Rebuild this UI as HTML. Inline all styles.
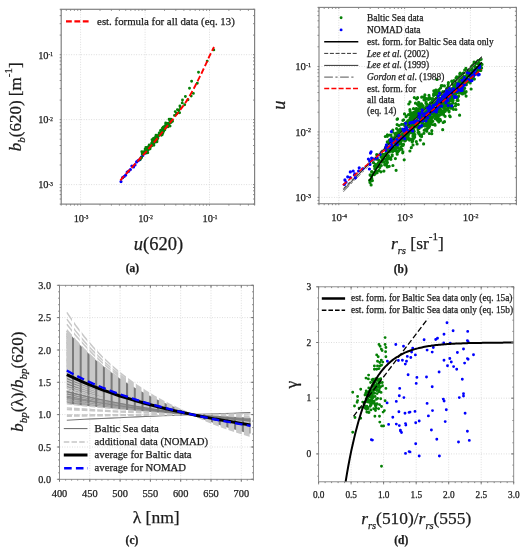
<!DOCTYPE html>
<html><head><meta charset="utf-8"><title>Figure</title>
<style>
html,body{margin:0;padding:0;background:#fff;}
svg{display:block;}
text{font-family:"Liberation Serif",serif;fill:#1c1c1c;stroke:#1c1c1c;stroke-width:0.25px;}
</style></head><body>
<svg width="523" height="550" viewBox="0 0 523 550">
<rect width="523" height="550" fill="#fff"/>
<line x1="80.6" y1="9.3" x2="80.6" y2="204.1" stroke="#d0d0d0" stroke-width="0.8" stroke-dasharray="0.9 1.6"/>
<line x1="61.2" y1="184.6" x2="254.6" y2="184.6" stroke="#d0d0d0" stroke-width="0.8" stroke-dasharray="0.9 1.6"/>
<line x1="145.1" y1="9.3" x2="145.1" y2="204.1" stroke="#d0d0d0" stroke-width="0.8" stroke-dasharray="0.9 1.6"/>
<line x1="61.2" y1="119.6" x2="254.6" y2="119.6" stroke="#d0d0d0" stroke-width="0.8" stroke-dasharray="0.9 1.6"/>
<line x1="209.5" y1="9.3" x2="209.5" y2="204.1" stroke="#d0d0d0" stroke-width="0.8" stroke-dasharray="0.9 1.6"/>
<line x1="61.2" y1="54.7" x2="254.6" y2="54.7" stroke="#d0d0d0" stroke-width="0.8" stroke-dasharray="0.9 1.6"/>
<path d="M121 181.6h0M122.6 177.7h0M124.1 176.5h0M125.7 175.1h0M127.2 172.1h0M128.8 171.2h0M130.4 169.5h0M131.9 166h0M133.5 167h0M135 164.9h0M136.6 161.9h0M138.1 160.7h0M139.7 159.7h0M141.3 157.2h0M142.8 155.5h0M144.4 152.6h0M145.9 152.9h0M147.5 150.6h0" stroke="#0000ff" stroke-width="3.2" stroke-linecap="round" fill="none"/>
<path d="M147.8 150.1h0M157.8 137.7h0M169.1 125h0M144.7 153.2h0M157 136.6h0M164.1 128.4h0M161.6 131.2h0M155.2 140.5h0M147 147.7h0M156 135.3h0M152.2 143.8h0M155.5 136.9h0M152 139.8h0M166.9 126.6h0M164.7 127h0M150.4 146.9h0M158.5 134.9h0M149.2 144.9h0M154.8 138h0M151.6 143.3h0M161.2 132.2h0M152.2 142h0M155 139.8h0M163.2 127.2h0M153.5 142.2h0M169.1 119.3h0M146.2 150.5h0M163.8 131h0M153.8 144.1h0M153.9 145.2h0M160.5 130.4h0M157 139.5h0M153.6 144.6h0M140.5 159.2h0M143.4 152h0M162.8 131.6h0M157 141.8h0M162.4 128.1h0M170.6 122.2h0M162 134.1h0M142.2 153.9h0M150.2 147.3h0M159.2 133h0M147.9 147.1h0M170.9 119.1h0M170.3 122h0M167.2 125.2h0M155.4 141.9h0M167 123.7h0M144.6 152.4h0M150.2 148.1h0M155.1 141.4h0M163.9 126.7h0M155.8 140.7h0M144.8 151.4h0M151.3 145.6h0M150.7 146.1h0M150 148.9h0M145.7 151.7h0M153.6 138.2h0M154.6 137.9h0M164.9 129.8h0M165.6 126.9h0M157 140.3h0M155 140.9h0M165 126.5h0M168.4 126.1h0M161.8 130.4h0M165.7 122.9h0M170.1 126.1h0M141.8 151.8h0M168.1 125.6h0M149.2 149.3h0M155.5 140h0M165.6 123.9h0M163.1 132.6h0M145.1 149.1h0M161.3 129.9h0M142.7 154h0M151.7 145.9h0M166.1 127.4h0M154 143.3h0M159.4 134.1h0M163.4 129.7h0M166.4 124.1h0M164.5 128.1h0M140.7 158.2h0M153.7 141.2h0M155.1 141.2h0M142.2 154.1h0M157.6 136h0M159.6 134.8h0M166.6 125.7h0M170.2 122.9h0M144.5 153.1h0M147.8 152.7h0M161.3 132.3h0M144.7 152.1h0M147.6 147.1h0M158.6 136h0M145.8 152.7h0M165.1 126.4h0M167.5 124.9h0M141.6 157.5h0M157.3 137.3h0M165.6 126.3h0M171.2 122.4h0M149.1 147.6h0M145.8 152.2h0M168.1 126.7h0M169.1 125.4h0M146.7 149.5h0M154.4 139.9h0M163.2 131h0M167.1 125.2h0M145.8 147.4h0M161.4 135.2h0M165.9 127h0M157.8 138.5h0M145.7 149h0M162.6 133.7h0M167.1 124.3h0M176.5 113.7h0M162.8 127.9h0M162.1 131.3h0M168.5 123.3h0M163.1 130h0M164.7 129.4h0M162.4 131.4h0M171.4 122.1h0M174.5 115.4h0M169.7 120.2h0M164.4 128.8h0M168 125.8h0M172.6 121.2h0M178.9 112.6h0M179.9 105.9h0M166.3 127.3h0M162.2 134.7h0M177 113.6h0M178.7 110.2h0M170.3 122.2h0M213.8 49.9h0M207.2 61.1h0M198.5 72.3h0M191.6 81.2h0M197.3 83.2h0M189.5 88.3h0M193.4 93.4h0M185.4 96.5h0M191.2 96.1h0M182.5 100h0M188 99.7h0M182.2 102.9h0M184.7 104.8h0M180.3 107.7h0M177.4 109.6h0M175.2 111.6h0M179.6 112.8h0" stroke="#058005" stroke-width="2.9" stroke-linecap="round" fill="none"/>
<path d="M120.4 180.3L122 178.5L123.6 176.7L125.2 175L126.7 173.2L128.3 171.4L129.9 169.6L131.5 167.9L133.1 166.1L134.7 164.4L136.3 162.6L137.9 160.9L139.4 159.1L141 157.4L142.6 155.7L144.2 153.9L145.8 152.2L147.4 150.3L149 148.4L150.5 146.5L152.1 144.6L153.7 142.7L155.3 140.8L156.9 138.8L158.5 136.9L160.1 135L161.6 133L163.2 131.1L164.8 129.2L166.4 127.2L168 125.2L169.6 123.2L171.2 121.2L172.8 119.3L174.3 117.4L175.9 115.5L177.5 113.5L179.1 111.5L180.7 109.3L182.3 107.1L183.9 104.9L185.4 102.7L187 100.4L188.6 97.6L190.2 94.9L191.8 92.1L193.4 89.2L195 86.3L196.5 83.2L198.1 80.1L199.7 76.9L201.3 73.8L202.9 70.4L204.5 67L206.1 63.6L207.7 60.1L209.2 56.7L210.8 53.4L212.4 50.1L214 47" stroke="#ff0000" stroke-width="1.9" fill="none" stroke-linecap="butt" stroke-dasharray="5.8 2.6" />
<path d="M61.2 204.1v1.5M61.2 9.3v1.5M66.3 204.1v1.5M66.3 9.3v1.5M70.6 204.1v1.5M70.6 9.3v1.5M74.4 204.1v1.5M74.4 9.3v1.5M77.7 204.1v1.5M77.7 9.3v1.5M80.6 204.1v1.5M80.6 9.3v1.5M100 204.1v1.5M100 9.3v1.5M111.4 204.1v1.5M111.4 9.3v1.5M119.4 204.1v1.5M119.4 9.3v1.5M125.7 204.1v1.5M125.7 9.3v1.5M130.8 204.1v1.5M130.8 9.3v1.5M135.1 204.1v1.5M135.1 9.3v1.5M138.8 204.1v1.5M138.8 9.3v1.5M142.1 204.1v1.5M142.1 9.3v1.5M145.1 204.1v1.5M145.1 9.3v1.5M164.5 204.1v1.5M164.5 9.3v1.5M175.8 204.1v1.5M175.8 9.3v1.5M183.9 204.1v1.5M183.9 9.3v1.5M190.1 204.1v1.5M190.1 9.3v1.5M195.2 204.1v1.5M195.2 9.3v1.5M199.6 204.1v1.5M199.6 9.3v1.5M203.3 204.1v1.5M203.3 9.3v1.5M206.6 204.1v1.5M206.6 9.3v1.5M209.5 204.1v1.5M209.5 9.3v1.5M228.9 204.1v1.5M228.9 9.3v1.5M240.3 204.1v1.5M240.3 9.3v1.5M248.4 204.1v1.5M248.4 9.3v1.5M254.6 204.1v1.5M254.6 9.3v1.5" stroke="#666" stroke-width="0.8" fill="none"/>
<path d="M61.2 204.1h-1.5M254.6 204.1h-1.5M61.2 199h-1.5M254.6 199h-1.5M61.2 194.6h-1.5M254.6 194.6h-1.5M61.2 190.8h-1.5M254.6 190.8h-1.5M61.2 187.5h-1.5M254.6 187.5h-1.5M61.2 184.6h-1.5M254.6 184.6h-1.5M61.2 165h-1.5M254.6 165h-1.5M61.2 153.6h-1.5M254.6 153.6h-1.5M61.2 145.5h-1.5M254.6 145.5h-1.5M61.2 139.2h-1.5M254.6 139.2h-1.5M61.2 134h-1.5M254.6 134h-1.5M61.2 129.7h-1.5M254.6 129.7h-1.5M61.2 125.9h-1.5M254.6 125.9h-1.5M61.2 122.6h-1.5M254.6 122.6h-1.5M61.2 119.6h-1.5M254.6 119.6h-1.5M61.2 100.1h-1.5M254.6 100.1h-1.5M61.2 88.6h-1.5M254.6 88.6h-1.5M61.2 80.5h-1.5M254.6 80.5h-1.5M61.2 74.2h-1.5M254.6 74.2h-1.5M61.2 69.1h-1.5M254.6 69.1h-1.5M61.2 64.7h-1.5M254.6 64.7h-1.5M61.2 61h-1.5M254.6 61h-1.5M61.2 57.7h-1.5M254.6 57.7h-1.5M61.2 54.7h-1.5M254.6 54.7h-1.5M61.2 35.1h-1.5M254.6 35.1h-1.5M61.2 23.7h-1.5M254.6 23.7h-1.5M61.2 15.6h-1.5M254.6 15.6h-1.5M61.2 9.3h-1.5M254.6 9.3h-1.5" stroke="#666" stroke-width="0.8" fill="none"/>
<rect x="61.2" y="9.3" width="193.4" height="194.8" fill="none" stroke="#808080" stroke-width="1.2"/>
<text x="81" y="221.5" font-size="10.4" text-anchor="middle" >10<tspan font-size="5.2" dy="-2.9">-3</tspan></text>
<text x="52.9" y="188.4" font-size="10.4" text-anchor="end" >10<tspan font-size="5.2" dy="-2.9">-3</tspan></text>
<text x="145.5" y="221.5" font-size="10.4" text-anchor="middle" >10<tspan font-size="5.2" dy="-2.9">-2</tspan></text>
<text x="52.9" y="123.4" font-size="10.4" text-anchor="end" >10<tspan font-size="5.2" dy="-2.9">-2</tspan></text>
<text x="209.9" y="221.5" font-size="10.4" text-anchor="middle" >10<tspan font-size="5.2" dy="-2.9">-1</tspan></text>
<text x="52.9" y="58.5" font-size="10.4" text-anchor="end" >10<tspan font-size="5.2" dy="-2.9">-1</tspan></text>
<path d="M66 21.3L89 21.3" stroke="#ff0000" stroke-width="2.2" fill="none" stroke-linecap="butt" stroke-dasharray="5.8 2.6" />
<text x="97.1" y="25.2" font-size="10.84" text-anchor="start" >est. formula for all data (eq. 13)</text>
<text x="158.5" y="249.5" font-size="18.5" text-anchor="middle" ><tspan font-style="italic">u</tspan>(620)</text>
<text x="0" y="0" font-size="17" text-anchor="middle" transform="translate(20.7,106.8) rotate(-90)"><tspan font-style="italic">b</tspan><tspan font-style="italic" font-size="11" dy="4">b</tspan><tspan dy="-4">(620) [m</tspan><tspan font-size="11" dy="-9">-1</tspan><tspan dy="9">]</tspan></text>
<text x="132.5" y="272.4" font-size="11.5" text-anchor="middle" font-weight="bold">(a)</text>
<line x1="338.8" y1="7.4" x2="338.8" y2="203.7" stroke="#d0d0d0" stroke-width="0.8" stroke-dasharray="0.9 1.6"/>
<line x1="404.6" y1="7.4" x2="404.6" y2="203.7" stroke="#d0d0d0" stroke-width="0.8" stroke-dasharray="0.9 1.6"/>
<line x1="470.4" y1="7.4" x2="470.4" y2="203.7" stroke="#d0d0d0" stroke-width="0.8" stroke-dasharray="0.9 1.6"/>
<line x1="319" y1="197.4" x2="516.4" y2="197.4" stroke="#d0d0d0" stroke-width="0.8" stroke-dasharray="0.9 1.6"/>
<line x1="319" y1="131.9" x2="516.4" y2="131.9" stroke="#d0d0d0" stroke-width="0.8" stroke-dasharray="0.9 1.6"/>
<line x1="319" y1="66.5" x2="516.4" y2="66.5" stroke="#d0d0d0" stroke-width="0.8" stroke-dasharray="0.9 1.6"/>
<path d="M463.3 73.1h0M396.6 128.6h0M460.5 81h0M425.7 111.7h0M388 158.2h0M452.2 82.1h0M460.5 85.7h0M448.3 88.8h0M478.1 60.7h0M398.7 150.7h0M396.4 141.2h0M386.5 164.9h0M430.4 122.8h0M414.7 114.3h0M409.9 109.7h0M421.6 136.6h0M400.7 131.8h0M370.5 175.4h0M422.8 123h0M400.9 136.6h0M420.4 111.9h0M474 70.1h0M390 149.7h0M441.4 105.6h0M442.2 111.1h0M401.5 131.5h0M422.7 113.5h0M478.6 68.6h0M408.4 131.5h0M449.8 107h0M464.1 82.1h0M410.4 125.9h0M480.9 59.5h0M440.1 119.3h0M426.1 101.8h0M450.1 99.6h0M417.5 112.3h0M449.8 100.9h0M400.8 142.2h0M473.8 64.1h0M430.7 109.9h0M397.1 124.6h0M419 132.3h0M470.3 73.9h0M460.4 77.1h0M424.3 109.3h0M409.4 140.1h0M412.1 139.2h0M479.9 69.3h0M382.6 154.3h0M469.6 76.3h0M466.1 91.7h0M395.1 135.8h0M409.1 124.7h0M433.8 101.2h0M459.9 80.5h0M476.4 74h0M481.1 65.4h0M401.5 138.9h0M391.5 151.1h0M424.6 124.9h0M432.4 124.5h0M443.6 103.6h0M382.1 157.7h0M442.4 95.4h0M473.2 78.1h0M472.5 71h0M475.7 63.1h0M473.3 71.3h0M477.6 67.5h0M375.5 173.3h0M472.6 78.5h0M400.4 129.3h0M405.9 123.1h0M421.4 114.5h0M477 63.1h0M437.8 106.3h0M409.5 131.9h0M411.9 125.9h0M471.4 66.5h0M462.1 78.1h0M385.4 163.7h0M397.9 129.9h0M411.7 132.6h0M394.3 148.1h0M433.1 107.3h0M395 133.7h0M434.4 111.4h0M474.8 66.7h0M465.1 81.5h0M381.1 161.7h0M393.2 138.5h0M416.2 119.5h0M442.4 101.7h0M413.3 112.7h0M398.2 136.7h0M408.6 122.4h0M392.8 130h0M466.5 78.7h0M448.1 97.5h0M416 116.2h0M448.4 82.7h0M428.2 120.4h0M428.9 119.1h0M411.1 132.3h0M424.7 118.5h0M480.4 59.7h0M457.9 91.5h0M462.7 79.2h0M383.9 171.1h0M426.5 109.6h0M411.1 132.5h0M380 154.6h0M414.3 112.3h0M378.3 162.8h0M396.2 146.6h0M459.5 92.9h0M446.9 103.4h0M448.2 84.5h0M378.9 170.3h0M388.4 143.7h0M372.4 180.6h0M380.9 171.8h0M381.3 165.5h0M477.5 71.5h0M470.1 69.5h0M392.9 165.5h0M398.4 139.9h0M477.6 71.5h0M433.8 102h0M411.3 125.4h0M422.3 106h0M400.5 133.6h0M435.4 109h0M451.2 98.9h0M427.7 126.4h0M461.9 89.7h0M382.7 160.3h0M437.6 107.8h0M480.8 70.4h0M386.7 148.8h0M425.4 126h0M440.6 88h0M407.8 120.8h0M478 68.5h0M424.4 114.2h0M423.6 143.9h0M471.1 89h0M371.8 171.5h0M467.3 73.4h0M384.5 155.4h0M412.5 141.3h0M424.7 125.9h0M423.4 119.3h0M374.4 166.2h0M405.5 123.1h0M410 101.9h0M477.1 61.7h0M472.7 75.5h0M435.4 116h0M474.5 65.1h0M466.7 81.3h0M412.1 140.6h0M383.1 159.3h0M438 104.4h0M406.2 136.4h0M371.1 179.2h0M479.9 65h0M478.6 64.2h0M430.1 108.3h0M439.2 107.2h0M444.9 98.1h0M473.8 78.5h0M422.4 125.2h0M435.3 118.8h0M395.4 158.6h0M397.1 153.1h0M428.5 126.2h0M395.7 144.4h0M373.4 172.8h0M411.3 147.7h0M454 89.2h0M401 129.7h0M466.6 75.4h0M448.7 101h0M443.2 107.5h0M470 82.4h0M378.3 164.4h0M390 135.1h0M471.8 76.1h0M471.6 79.8h0M378.8 164.9h0M456.7 90.8h0M371.7 178.2h0M385.1 165h0M382.3 159h0M402.9 120.3h0M413.5 118.8h0M472 73.4h0M418.9 102.6h0M383.9 162.1h0M400.5 128.9h0M370.7 179.7h0M373.1 174.6h0M418.3 117h0M427.4 128.8h0M398 133.7h0M412.5 118.6h0M381.6 162.1h0M443.8 110.7h0M414 123.6h0M388.1 143.7h0M425.7 121.2h0M393.3 149h0M402.7 152.8h0M383.9 155.7h0M457.4 92.6h0M401.3 129.8h0M477 61.9h0M415.4 123.1h0M387.4 158.3h0M449 90.8h0M452.2 90.7h0M468.7 71.4h0M384.7 164.8h0M458.5 85.6h0M466.3 84.7h0M404.1 124.2h0M420.9 118.5h0M439.4 100.6h0M397.5 118.9h0M467.6 80h0M448.3 103.9h0M465.9 68.4h0M420.4 116.5h0M428.1 109.4h0M391.8 137.6h0M405.2 129h0M451.7 81.2h0M477.4 68.7h0M387 161.1h0M375.7 164.3h0M377.6 166.3h0M418.8 132.7h0M458.8 90.7h0M395.2 137.5h0M423.4 107.8h0M427.7 115.2h0M463.8 83.2h0M388.4 155.5h0M371.6 171.8h0M426.7 124.1h0M409.8 123.5h0M402.7 139.5h0M456.5 86.6h0M446.5 90.4h0M379.4 160.8h0M431.4 102.7h0M459.4 86.5h0M471.9 77.7h0M370 182.4h0M460.4 89.4h0M374.8 168.8h0M446.4 97.6h0M437 113.2h0M476.6 73.4h0M440.8 102.5h0M377.8 165.6h0M445.1 96.2h0M398.6 139.7h0M463.2 91.3h0M373.5 162.7h0M406.3 132.8h0M445.8 97.3h0M387.4 134.9h0M442.4 107.1h0M448.1 99.1h0M452.2 98.8h0M468 70.9h0M416.3 141.6h0M386 154.8h0M399.2 134.1h0M413.6 138.2h0M376.1 171.7h0M449.4 105.3h0M377.1 172.7h0M376.5 159.2h0M474.4 79.1h0M460.3 85.7h0M398.4 140.5h0M408.3 137.4h0M462.5 80.9h0M439.4 109.2h0M399.7 143.3h0M420.3 117.8h0M465.8 84.8h0M370.1 174.9h0M481.1 59.2h0M433.4 99.6h0M390.4 150.9h0M459.6 115.2h0M378.5 166.4h0M415.9 120.6h0M434.2 109h0M397.7 147.4h0M469.1 81.7h0M448.1 90.4h0M388.1 158.7h0M387.1 152.3h0M376.9 171.3h0M434 91.5h0M391 135h0M430.8 117.2h0M461.8 74.3h0M468.5 80.8h0M383 160.5h0M407.2 131h0M416.7 124.5h0M412.9 127h0M416.9 125.2h0M421.5 113.7h0M454.7 93.4h0M404.2 159.8h0M408.5 139.2h0M413.7 129.6h0M386.9 155.5h0M440.6 99h0M414.8 125h0M472.6 72.2h0M462 92.7h0M395.8 133.4h0M397.1 119.3h0M457.6 86.8h0M432.7 116.9h0M371.1 184.9h0M440.5 114.7h0M414.2 114.3h0M457.9 89h0M453.6 87.3h0M473.3 71.7h0M448.3 92.3h0M472.3 65.5h0M401.9 138.5h0M407.9 130.8h0M376.6 167.3h0M467.1 82.3h0M387.3 167h0M431.7 112.2h0M427 110.6h0M461.2 93.2h0M413.5 108.7h0M386 159.3h0M412.9 117.3h0M375.4 166.7h0M403.8 133.7h0M440.6 120.5h0M376.4 165.2h0M480.8 66.8h0M430.1 115.6h0M403.6 119.8h0M463.4 90.7h0M385.4 149.3h0M406.1 116.7h0M475 67h0M396.9 133.6h0M452.1 100.7h0M379.1 160.5h0M429.6 126.1h0M443.7 105.4h0M393.5 138h0M406.7 122.1h0M431.7 113.3h0M436.1 90h0M387.3 136.3h0M416 113.6h0M482 64.4h0M406.1 132.3h0M458 90.7h0M392.6 143.4h0M421.7 97.2h0M428 110.4h0M436.8 91.9h0M450.4 104.3h0M459.1 89.4h0M448.4 98.8h0M460.4 90.8h0M469.2 79.4h0M406.5 132.4h0M462.7 87.8h0M428.2 107.9h0M399.1 125.5h0M389.4 152h0M455.6 103.5h0M441.3 114h0M377.9 165h0M435.8 114.1h0M375 168.9h0M413.8 127.4h0M434 104.2h0M442.8 105.3h0M458.3 104.5h0M435.2 115.9h0M414.7 137.1h0M456.2 86.5h0M467.7 75.3h0M442 104.3h0M427.4 118.9h0M453.9 92.7h0M419.1 128.6h0M446.3 96.8h0M410.9 139.1h0M404.7 141h0M441.6 95h0M436.1 113.6h0M473.7 71.1h0M421.3 127h0M428.6 108.2h0M400.6 138.4h0M383.1 161.6h0M385.3 136.5h0M439.1 89.5h0M399.8 137.6h0M455 92.3h0M462.1 93h0M421.2 119.7h0M467.8 71.7h0M433.5 113h0M455 87.7h0M422.6 114.6h0M451 93h0M405.4 134.5h0M442.9 91.6h0M417 110.6h0M424.9 94.9h0M443.2 122.5h0M432.1 101.8h0M426.2 106.6h0M445.5 92.5h0M447.3 95.2h0M394.8 138.7h0M441.4 110.4h0M444.1 104.8h0M410 130.3h0M437.3 102.3h0M396.2 140h0M462.5 93.9h0M422.3 116.7h0M426.1 117.4h0M456.7 76.8h0M424.6 120.3h0M442.4 106.6h0M402.9 145.4h0M414.3 97.6h0M394.6 142.7h0M423 115.3h0M452.7 96h0M433.4 104.3h0M449.2 100.3h0M403.4 139.4h0M406.8 130.2h0M416.8 118.3h0M441.7 102.8h0M436.6 104.4h0M427.6 113.9h0M442.9 97.6h0M424.4 97.1h0M427.5 126h0M459.3 76.7h0M413.9 122.4h0M432.4 98.6h0M466.7 78.7h0M430.4 102.9h0M445 102.1h0M413.4 116h0M475 64.6h0M374 173.4h0M400.8 147.2h0M402.7 136.5h0M466.9 80.9h0M436.5 98.3h0M421.7 116.2h0M397.2 142.9h0M436.7 101.7h0M430.7 119.6h0M411.4 125.2h0M392.2 148.1h0M401.5 129.9h0M433.1 105.5h0M435.5 110.4h0M429.8 115.5h0M424.4 118.5h0M385.6 147.5h0M429.2 105.6h0M403.2 132.5h0M429 95.4h0M439.2 115.4h0M411.8 128.1h0M403.4 132.9h0M451.8 90.3h0M436.4 115.1h0M412.7 121.7h0M426.8 131.2h0M443.1 106.9h0M454.9 81.8h0M411.7 132h0M412.6 119.5h0M417.4 115.3h0M448.1 97.4h0M399.8 134.8h0M425.3 116.9h0M405.8 137.6h0M434.4 113.1h0M390.7 141.5h0M437 95.1h0M416.1 113.7h0M422.6 119.6h0M440.6 112.7h0M455.5 105.9h0M387.3 141.9h0M452.1 96.2h0M441.4 102.5h0M420.9 113.5h0M461.7 87.2h0M432.5 107.9h0M459 87.2h0M413.8 117.2h0M407.2 132.8h0M457.4 98.3h0M479.9 70.3h0M443.2 98.8h0M449.4 89.6h0M416.6 118.3h0M396.2 133.1h0M422.6 125.7h0M464 78.1h0M383.3 158h0M416.1 108.7h0M382.1 157.3h0M430.6 113.1h0M449 110.9h0M398.2 131.8h0M418.2 122.8h0M459.8 73.7h0M425.9 103.1h0M398.3 130.6h0M396.4 135.6h0M379.6 165.3h0M446.6 106h0M410.1 111.3h0M453.2 98.6h0M448.8 89.6h0M412.2 141.9h0M415.3 124.8h0M446.7 101.9h0M431.6 109.1h0M434.4 108.6h0M388.5 150.1h0M449.5 92.4h0M407 136.3h0M373.5 174h0M413.2 130.8h0M438.1 106h0M478.3 69h0M419.1 111.5h0M396.1 170.3h0M479 62.9h0M431.8 106.4h0M421.7 125.6h0M402.2 144.8h0M403.9 124.4h0M463.5 73h0M421.5 103.9h0M415.1 112.8h0M415.8 114.1h0M465.6 80.5h0M413.9 132.8h0M443.1 112.7h0M434.4 103.3h0M433.7 114.2h0M406.9 137.6h0M443.8 115h0M466.6 79.3h0M426.7 106.8h0M405.9 137.2h0M397 152.1h0M432.6 105.2h0M421.5 134.9h0M425.5 130.2h0M428.3 110.2h0M392.6 131.9h0M446.8 95.5h0M433.6 106.1h0M426.2 118.8h0M433.6 94.2h0M450.2 116.7h0M429.3 133.5h0M407.6 121.8h0M456 78.1h0M417.6 118.2h0M410.6 130h0M390.5 157.8h0M428.2 119.2h0M402.9 131h0M415.5 103.2h0M438.8 110.6h0M428.8 120h0M452.4 92.8h0M435.3 110.7h0M418.3 121.1h0M420.1 115.4h0M415.8 110.6h0M443.5 106h0M428.5 99.5h0M418.1 132.4h0M448.3 91.7h0M430.3 115.9h0M416.8 113.6h0M391.7 148.7h0M438.5 104.3h0M433.7 114.1h0M429.2 104.8h0M417.6 104.6h0M408 125.6h0M422.6 112.8h0M433.6 95.6h0M424.9 108.3h0M424.5 99.5h0M416.8 121.6h0M436.1 104.3h0M433.6 109.4h0M409.9 151h0M446.2 102.2h0M447 103.3h0M447.5 104.9h0M424.9 113.4h0M423.3 110.1h0M400.2 143.2h0M446.1 109.7h0M376.7 154.5h0M418.6 117.4h0M419.8 114.6h0M448.5 94.2h0M428 124.1h0M404.9 125.9h0M393.8 150h0M410.5 120.9h0M430.6 107.4h0M429.3 118.6h0M423.3 108.8h0M411.6 123.5h0M423 105.6h0M451.9 88.7h0M401.6 140.5h0M428.8 117.6h0M466.8 72.9h0M441.3 93.9h0M417.1 144h0M443.9 97.2h0M410 118.2h0M428.2 117.3h0M465.3 76.8h0M473.5 70.3h0M387 158.4h0M444.8 110.6h0M474.8 69.6h0M414.9 134.6h0M434.2 107.5h0M464.2 81.6h0M416.2 120.9h0M438.8 103.1h0M426.6 118.4h0M381.8 161.3h0M436.3 100.5h0M423.6 117.1h0M450.3 92.8h0M478.2 64.1h0M444.4 101.2h0M419.2 127.8h0M438.8 108.4h0M432.8 121.3h0M452.6 107.1h0M393.5 143h0M400 130.1h0M378.9 160.1h0M442.6 106h0M427.5 120.9h0M412.6 138.9h0M410.6 113.6h0M414.3 131.3h0M405.7 140.3h0M420.3 140.1h0M416.1 122.8h0M461.4 86.3h0M435.8 94.1h0M408.4 120.5h0M414 112.6h0M456.8 83.7h0M438.9 97.8h0M435.1 94.4h0M445.3 101h0M466.1 83.4h0M398.8 143.6h0M410.1 125.5h0M386.2 160.6h0M439.9 114.9h0M418.9 104.5h0M411.9 122.3h0M409.7 115h0M444.6 94h0M424.6 116.6h0M415.3 120.7h0M458.1 100.4h0M402.9 151.8h0M397.7 142h0M419.2 116.7h0M415 120.8h0M410.5 126h0M424.7 120.1h0M446.8 94.4h0M446.1 106.1h0M441.1 102.5h0M421.3 126.8h0M392.2 156h0M434.8 124.4h0M464.5 81.9h0M453.7 83.8h0M424 99.8h0M447.3 97.7h0M418.7 105.7h0M426.7 98.6h0M398.4 134.5h0M420.4 108.4h0M431.4 117.2h0M423.9 133.3h0M446.5 99h0M473.2 74h0M459.7 77.4h0M420.7 119.1h0M410.5 119.7h0M412.3 114.3h0M404.5 113.9h0M428.8 127.1h0M438.1 92.1h0M432.4 99.3h0M432.6 110.2h0M431.8 113.3h0M424.8 117.7h0M410.2 127.6h0M469.4 72.1h0M453.1 100.6h0M406.2 131.9h0M406.3 116.2h0M413.9 138.3h0M428.8 109.4h0M458.2 96.8h0M452.4 84.2h0M453.6 85.2h0M454.1 89.5h0M454.6 88.2h0M445.7 110.3h0M438.9 91.6h0M425.1 116.4h0M386.1 146.4h0M424.9 119.8h0M471.2 76h0M415 117.2h0M413 145h0M452.4 95.1h0M429.9 122h0M416.5 108.7h0M465.4 81.2h0M443 104.5h0M446.2 102.5h0M414.5 119.7h0M439.9 98.2h0M437 79.5h0M446.6 96.1h0M455.6 85.7h0M455 91.2h0M432.1 118.5h0M444.5 121.7h0M400.5 140.2h0M443.4 112.2h0M444.4 108.2h0M418.7 126h0M409.4 133h0M426.6 111.7h0M398.9 134.4h0M436.2 111.1h0M435.1 125.2h0M405.2 138.6h0M429.1 127.3h0M453.6 84.6h0M453.5 96.6h0M452.3 98.9h0M424.4 120.3h0M419.9 105.6h0M418.6 102.3h0M442.2 85.7h0M461.7 83.8h0M466.1 96.1h0M460.4 89.5h0M389.3 140.1h0M423.2 119.4h0M417.6 117.5h0M458 91.7h0M468.5 75.7h0M412.1 113.1h0M428.9 107.9h0M441.4 111.3h0M416.3 124.4h0M412.9 136h0M411.7 115.5h0M449.2 107.2h0M406.2 131.1h0M455.2 94.6h0M430.1 123.6h0M446 100.7h0M465.1 84.3h0M411.9 131.6h0M408.4 134.8h0M438.2 114.5h0M403.2 145.3h0M410.5 131.9h0M425.3 111.3h0M431.8 133.7h0M398.2 138.3h0M418.8 123.1h0M442 98.3h0M460.2 73.2h0M381 157.1h0M459.3 90h0M449.1 103.4h0M402 134.8h0M392.8 151.5h0M438 116.4h0M418 129.7h0M431.3 111.8h0M448.6 100.3h0M419.1 117.5h0M431.9 103.4h0M439.4 119.5h0M449.3 89h0M470.1 76.3h0M468.7 79.8h0M433.8 90.8h0M422.4 124.1h0M443.3 101.1h0M438.2 109.4h0M401.7 131.9h0M446.6 88.7h0M409.4 129.9h0M417.1 122.3h0M396.1 149.5h0M415.6 127h0M429.5 97.5h0M392.2 154.8h0M406.6 138h0M426.1 122h0M397.9 143.3h0M398.1 132.6h0M408.1 134.2h0M394.4 140.1h0M442.7 129.7h0M404.3 130.3h0M446.4 92.5h0M450.1 95.5h0M399.4 150h0M429 108h0M416.6 99h0M400.8 149h0M420 121.8h0M422.2 112.8h0M445 109.1h0M452.5 88.8h0M401.7 124.3h0M418.3 129.1h0M440.7 101.2h0M456.2 96.5h0M369.6 180.4h0M458.6 96.2h0M424 117.3h0M464.7 70h0M417.9 127h0M408.1 124.7h0M429.1 121.3h0M456 93.6h0M428.7 126.4h0M371.6 175.9h0M444.4 85.8h0M389.5 147.1h0M404.6 137.2h0M400.2 133.3h0M384 154.3h0M398 151.7h0M404.3 131.1h0M413.3 134.5h0M426.7 116h0M420 105.3h0M392.5 138h0M423.6 113.6h0M451.3 99.5h0M450.8 91.2h0M431.2 98.9h0M442.9 95.6h0M449.4 94.7h0M460.7 81.9h0M468.7 75h0M420.3 135.8h0M421.5 120.4h0M463.3 79.5h0M465.5 82.3h0M465 93.2h0M371.8 178.6h0M422.7 116.1h0M445.5 91.1h0M429.3 97.4h0M429.3 109.9h0M424.7 114.8h0M459.3 78.1h0M421 105.7h0M452.8 95.4h0M441.3 85.7h0M436.6 92.8h0M439.1 106.3h0M430.7 117.3h0M401.8 137.8h0M445.2 111.3h0M445.1 116.3h0M424.5 124.2h0M445.5 100.3h0M449.6 115.8h0M397.2 154.2h0M424.6 124.6h0M417.4 113.5h0M406.3 134.6h0M435.7 90h0M407.8 126.4h0M417.6 97.7h0M433.9 106.3h0M436.4 117.9h0M435.7 109.2h0M481.6 68h0M415.9 122.4h0M434 111.1h0M399.1 135h0M439.6 111.4h0M455.7 92.8h0M457.1 100.5h0M412.7 140.4h0M421.3 121.5h0M458.3 82.6h0M425.8 120.5h0M451 108.2h0M404.7 138.5h0M461.2 89.6h0M452.7 103.2h0M439.1 118.8h0M408.8 104h0M424.2 130.3h0M431.6 118.8h0M434.3 114.4h0M425.5 110.4h0M422.8 119.3h0M432.6 116.7h0M461.5 77.1h0M379.8 167.4h0M395.1 143h0M390.9 159.3h0M411.5 132.7h0M386.2 152.8h0M441.3 106.1h0M430.3 118.5h0M421.9 119.1h0M411.6 131.4h0M431.8 105.2h0M432.3 100h0M435.9 103.8h0M410.5 113.8h0M443.6 97.4h0M392.8 148.2h0M458 79.2h0M413.8 112.9h0M399.1 144.2h0M447 97h0M392.4 145.8h0M471.7 68.4h0M390.9 139.6h0M476.7 67.5h0M438.8 121.9h0M428.7 117.6h0M438.5 92.3h0M480.6 65.6h0M449.4 106.5h0M374.4 174.6h0M456.7 83.2h0M433.6 109.9h0M389.2 166.3h0M446.3 94.2h0M398.9 140.9h0M432.3 104.5h0M433.6 99h0M412.4 121.5h0M443.5 113.1h0M403.5 144.3h0M432.6 103.1h0M414.9 119h0M423.6 108.5h0M474.1 62.1h0M430.7 117.9h0M401.9 149.2h0M425.2 129.6h0M409.5 123.7h0M428.6 125.8h0M431.9 121.6h0M430 109.7h0M430 112.8h0M414.9 120h0M438.8 109.4h0M453.4 109.3h0M413.1 116.4h0M426.6 103.9h0M429.5 121.2h0M458.1 91.4h0M453.9 80.5h0M410.5 117.8h0M429.7 105.5h0M392.1 141.4h0M404.8 135.4h0M428.4 123h0M443.1 103.1h0M450.9 98.9h0M420.5 111.8h0M395.5 150.6h0M437.5 120.3h0M423.8 114.3h0M438.2 101h0M431.8 130.7h0M445.2 111h0M443.7 96.5h0M448.2 86.5h0M417 119h0M451.9 106.2h0M415.9 117.6h0M430 110.7h0M472.7 71.4h0M436.6 114.7h0M400 149.3h0M463.8 76.4h0M452 94.5h0M455.4 92.1h0M432.7 105.6h0M436.3 98.2h0M422.4 125.2h0M411.2 128.3h0M464.7 88.3h0M419.2 134h0M416.5 118.8h0M417.4 126.5h0M472.7 71.8h0M449.1 98.9h0M419.2 123h0M426.9 113.4h0M440.3 92.9h0M449.1 111.8h0M389.3 151.2h0M449.7 89.8h0M422.8 97h0M411.5 126.4h0M418.6 126.5h0M447 109.9h0M470.2 83h0M431.6 108.6h0M441.4 111.5h0M408.5 114.7h0M439.8 108.2h0M447.7 108.4h0M392.3 141.3h0M415.7 121.5h0M447 102.5h0M385.8 155.9h0M419 133.9h0M442.4 95.7h0M387.4 162.5h0M418.5 108.9h0M429.3 107.3h0M449.4 93.1h0M397.3 139.3h0M454.6 90.6h0M435.3 114h0M456.7 92.5h0M455.9 109.5h0M436.2 112.6h0M439.7 104.6h0" stroke="#058005" stroke-width="3.2" stroke-linecap="round" fill="none"/>
<path d="M343.3 188.6L372 159.5L402.1 130.6L440 94.8L481.9 56.6" stroke="#222" stroke-width="0.9" fill="none" stroke-linecap="butt" stroke-dasharray="4 1.7" />
<path d="M343.3 190.2L372 161L402.1 131.4L440 95.4L481.9 57.1" stroke="#111" stroke-width="1" fill="none" stroke-linecap="butt" />
<path d="M343.3 191.9L372 162.6L402.1 132.2L440 96L481.9 57.6" stroke="#777" stroke-width="0.9" fill="none" stroke-linecap="butt" stroke-dasharray="8.7 2.5 2.2 2.5" />
<path d="M460.9 88.8h0M444.9 94.3h0M358.6 171h0M406.7 128h0M433.2 107.4h0M355.4 177.8h0M439.4 105.8h0M456.3 97.1h0M474.9 74.6h0M412.3 122.4h0M346 182.2h0M371.1 151.8h0M454.7 97.6h0M362.8 168.8h0M429.1 114h0M433.4 109.3h0M404.2 130h0M451.9 92.9h0M359.2 167.8h0M428.8 110.7h0M395.3 141.8h0M462.1 80.4h0M397.5 144.8h0M368.4 159h0M390.2 147.8h0M415.5 121.3h0M353.2 171h0M462.9 85.4h0M433.2 109.4h0M385.8 147.5h0M427.1 113.6h0M479.7 67.6h0M426.4 116h0M398.9 135.6h0M437.4 105.3h0M447.9 100.5h0M438.1 99.7h0M371.6 158.1h0M344.9 179.9h0M386.4 144.8h0M402.9 129h0M458.4 86.6h0M354.4 175h0M460.1 85.7h0M350.3 171.9h0M385.9 150.6h0M398.6 140.1h0M472.4 76.1h0M474.9 70.1h0M347.7 176.8h0M369.4 169h0M404.8 138.7h0M380.1 154.6h0M475.5 69.9h0M427.7 117.8h0M387.7 147.2h0M426 120.8h0M436.4 103.8h0M461.9 86.3h0M466.3 80.2h0M401 138.2h0M448.2 93.7h0M478.3 74.3h0M416.7 120.9h0M444.4 95.9h0M410.4 129.6h0M395.6 140.8h0M370.5 153.1h0M354.8 173.9h0M387.4 147.1h0M391.7 143.9h0M421.8 125.6h0M435.9 104h0M441.5 101.6h0M449.7 88.5h0M422.1 112.4h0M413.7 122.7h0M427.6 112.7h0M440.4 101.8h0M460.4 88.2h0M377.3 157.9h0M462.3 88h0M369.7 160.9h0M344.4 184.5h0M453.5 88.9h0M374.3 159h0M459.4 88.4h0M391.9 141.1h0M391.4 131.6h0M463.8 80.6h0M448.2 105.5h0M350.2 177.5h0M474.2 72h0M371.2 160.7h0M435.3 110.9h0M473.7 76h0M459.9 85.5h0M410.4 122.9h0M474.6 72.9h0M438 100.1h0M391 145.1h0M454.4 96.4h0M403.5 137.2h0M429.8 109.1h0M479.7 66.1h0M429.8 106.2h0M408.1 131.1h0M449.5 97h0M429.6 114.4h0M448 97.4h0M405.9 126.8h0M467.5 72.8h0M478.3 75h0M403.4 130.3h0M420.3 126.3h0M422.2 109.9h0M457.9 83.8h0M390.5 140.7h0M444.8 99.8h0M433.9 110.4h0M419.8 117.6h0M457.2 90.6h0M390.9 139h0M405.4 129.8h0M420.1 114.9h0M457.4 86.2h0M431 108h0M419 121.5h0M451.7 105.8h0M427.7 108h0M423.6 115.7h0M432.2 111.8h0M448.2 96.2h0M412.6 130.9h0M446.7 93.4h0M436 109h0M433.4 105.4h0M477.8 74.2h0M459.3 87.3h0M456.7 89.7h0M428.7 110.1h0M418.9 113.6h0M447.4 92.5h0M432.9 111.3h0M425.8 113.7h0M456.9 91.4h0M410 122.9h0M422 120.2h0M459.9 89.9h0M438.2 96.1h0M456.9 89.9h0M419 127.5h0M457.9 85.1h0M422.6 121h0M474.2 74.4h0M460.1 89.2h0M452 91.4h0M478.8 67.6h0M449.2 93.6h0M424.7 114.2h0M479.3 67.8h0M449.2 91.9h0M471 81h0M444.4 97h0M469.6 73.6h0M419 116.9h0M409.1 130.4h0M405.6 123.3h0M459.7 88.2h0M391.6 145.8h0M396.2 144.1h0M405.3 130.1h0M446.6 94.3h0M451.7 93.7h0M420.4 119.7h0M460.5 90.6h0M448.8 95.7h0M471.1 75.3h0M464.4 77.5h0M423.7 115.7h0M445.9 98.2h0M436.8 109.9h0M452.5 92.8h0M446 102.8h0M441.6 106.1h0M458.8 84.4h0M442.5 96.5h0M459.3 84.4h0M441.9 100.4h0M437.1 102.3h0M464.1 85.3h0M464.9 84.6h0M472 80.6h0M456.8 89.9h0M435.8 104.7h0M445.8 99.5h0M445 95.3h0M397.2 139.1h0M413.1 122.5h0M479.2 74.4h0M439.6 93.3h0M370 164.5h0M438.1 107.7h0M445.1 98.4h0M410.4 128.8h0M469.2 79.3h0M461.3 89.9h0M436.3 112h0M453.1 92h0M462.1 90.5h0M452.9 89.7h0M424.3 117.5h0M445.7 99.7h0M444.3 94.6h0M448.3 97.2h0M415 121.3h0M447.5 99.6h0M441 98.8h0M446.7 90.7h0M445.8 93.2h0M404.9 132.2h0M462.1 85.6h0" stroke="#0000ff" stroke-width="3.2" stroke-linecap="round" fill="none"/>
<path d="M369.4 180.6L375 171L381 162L386.6 154.4L394 146L403.8 136.5L430 112.8L459 86.5L481.8 62.2" stroke="#000" stroke-width="1.35" fill="none" stroke-linecap="butt" />
<path d="M342.7 185.1L481.6 69.2" stroke="#ff0000" stroke-width="1.45" fill="none" stroke-linecap="butt" stroke-dasharray="5 2.2" />
<path d="M319 203.7v1.5M319 7.4v1.5M324.2 203.7v1.5M324.2 7.4v1.5M328.6 203.7v1.5M328.6 7.4v1.5M332.4 203.7v1.5M332.4 7.4v1.5M335.8 203.7v1.5M335.8 7.4v1.5M338.8 203.7v1.5M338.8 7.4v1.5M358.6 203.7v1.5M358.6 7.4v1.5M370.2 203.7v1.5M370.2 7.4v1.5M378.4 203.7v1.5M378.4 7.4v1.5M384.8 203.7v1.5M384.8 7.4v1.5M390 203.7v1.5M390 7.4v1.5M394.4 203.7v1.5M394.4 7.4v1.5M398.2 203.7v1.5M398.2 7.4v1.5M401.6 203.7v1.5M401.6 7.4v1.5M404.6 203.7v1.5M404.6 7.4v1.5M424.4 203.7v1.5M424.4 7.4v1.5M436 203.7v1.5M436 7.4v1.5M444.2 203.7v1.5M444.2 7.4v1.5M450.6 203.7v1.5M450.6 7.4v1.5M455.8 203.7v1.5M455.8 7.4v1.5M460.2 203.7v1.5M460.2 7.4v1.5M464 203.7v1.5M464 7.4v1.5M467.4 203.7v1.5M467.4 7.4v1.5M470.4 203.7v1.5M470.4 7.4v1.5M490.2 203.7v1.5M490.2 7.4v1.5M501.8 203.7v1.5M501.8 7.4v1.5M510 203.7v1.5M510 7.4v1.5M516.4 203.7v1.5M516.4 7.4v1.5" stroke="#666" stroke-width="0.8" fill="none"/>
<path d="M319 203.7h-1.5M516.4 203.7h-1.5M319 200.4h-1.5M516.4 200.4h-1.5M319 197.4h-1.5M516.4 197.4h-1.5M319 177.7h-1.5M516.4 177.7h-1.5M319 166.1h-1.5M516.4 166.1h-1.5M319 158h-1.5M516.4 158h-1.5M319 151.6h-1.5M516.4 151.6h-1.5M319 146.4h-1.5M516.4 146.4h-1.5M319 142.1h-1.5M516.4 142.1h-1.5M319 138.3h-1.5M516.4 138.3h-1.5M319 134.9h-1.5M516.4 134.9h-1.5M319 131.9h-1.5M516.4 131.9h-1.5M319 112.2h-1.5M516.4 112.2h-1.5M319 100.7h-1.5M516.4 100.7h-1.5M319 92.5h-1.5M516.4 92.5h-1.5M319 86.2h-1.5M516.4 86.2h-1.5M319 81h-1.5M516.4 81h-1.5M319 76.6h-1.5M516.4 76.6h-1.5M319 72.8h-1.5M516.4 72.8h-1.5M319 69.5h-1.5M516.4 69.5h-1.5M319 66.5h-1.5M516.4 66.5h-1.5M319 46.8h-1.5M516.4 46.8h-1.5M319 35.3h-1.5M516.4 35.3h-1.5M319 27.1h-1.5M516.4 27.1h-1.5M319 20.8h-1.5M516.4 20.8h-1.5M319 15.6h-1.5M516.4 15.6h-1.5M319 11.2h-1.5M516.4 11.2h-1.5M319 7.4h-1.5M516.4 7.4h-1.5" stroke="#666" stroke-width="0.8" fill="none"/>
<rect x="319" y="7.4" width="197.4" height="196.3" fill="none" stroke="#808080" stroke-width="1.1"/>
<text x="339.1" y="221.3" font-size="10.8" text-anchor="middle" >10<tspan font-size="6" dy="-3.6">-4</tspan></text>
<text x="404.9" y="221.3" font-size="10.8" text-anchor="middle" >10<tspan font-size="6" dy="-3.6">-3</tspan></text>
<text x="470.7" y="221.3" font-size="10.8" text-anchor="middle" >10<tspan font-size="6" dy="-3.6">-2</tspan></text>
<text x="311" y="201.2" font-size="10.8" text-anchor="end" >10<tspan font-size="6" dy="-3.6">-3</tspan></text>
<text x="311" y="135.7" font-size="10.8" text-anchor="end" >10<tspan font-size="6" dy="-3.6">-2</tspan></text>
<text x="311" y="70.3" font-size="10.8" text-anchor="end" >10<tspan font-size="6" dy="-3.6">-1</tspan></text>
<path d="M341.1 17.7h0" stroke="#058005" stroke-width="2.9" stroke-linecap="round" fill="none"/>
<path d="M341.1 29.9h0" stroke="#0000ff" stroke-width="2.9" stroke-linecap="round" fill="none"/>
<path d="M324.2 41.8L358.3 41.8" stroke="#000" stroke-width="1.6" fill="none" stroke-linecap="butt" />
<path d="M324.2 53.4L358.3 53.4" stroke="#333" stroke-width="1" fill="none" stroke-linecap="butt" stroke-dasharray="4 1.7" />
<path d="M324.2 65.4L358.3 65.4" stroke="#333" stroke-width="1" fill="none" stroke-linecap="butt" />
<path d="M324.2 77.1L356 77.1" stroke="#777" stroke-width="1.1" fill="none" stroke-linecap="butt" stroke-dasharray="8.7 2.5 2.2 2.5" />
<path d="M324.2 88.5L358.3 88.5" stroke="#ff0000" stroke-width="1.7" fill="none" stroke-linecap="butt" stroke-dasharray="5 2.2" />
<text x="367.1" y="20.9" font-size="9.4" text-anchor="start" >Baltic Sea data</text>
<text x="367.1" y="32.8" font-size="9.4" text-anchor="start" >NOMAD data</text>
<text x="367.1" y="44.8" font-size="9.4" text-anchor="start" >est. form. for Baltic Sea data only</text>
<text x="367.1" y="56.5" font-size="9.4" text-anchor="start" ><tspan font-style="italic">Lee et al.</tspan> (2002)</text>
<text x="367.1" y="68.1" font-size="9.4" text-anchor="start" ><tspan font-style="italic">Lee et al.</tspan> (1999)</text>
<text x="367.1" y="80.1" font-size="9.4" text-anchor="start" ><tspan font-style="italic">Gordon et al.</tspan> (1988)</text>
<text x="367.1" y="91.8" font-size="9.4" text-anchor="start" >est. form. for</text>
<text x="367.1" y="102.9" font-size="9.4" text-anchor="start" >all data</text>
<text x="367.1" y="113.6" font-size="9.4" text-anchor="start" >(eq. 14)</text>
<text x="417.4" y="248.6" font-size="17.5" text-anchor="middle" ><tspan font-style="italic">r</tspan><tspan font-style="italic" font-size="10.5" dy="5">rs</tspan><tspan dy="-5"> [sr</tspan><tspan font-size="11" dy="-9">-1</tspan><tspan dy="9">]</tspan></text>
<text x="0" y="0" font-size="18.4" text-anchor="middle" transform="translate(284.6,105.2) rotate(-90)"><tspan font-style="italic">u</tspan></text>
<text x="400.7" y="272.9" font-size="11.5" text-anchor="middle" font-weight="bold">(b)</text>
<line x1="89.8" y1="285.3" x2="89.8" y2="479.3" stroke="#d0d0d0" stroke-width="0.8" stroke-dasharray="0.9 1.6"/>
<line x1="120.1" y1="285.3" x2="120.1" y2="479.3" stroke="#d0d0d0" stroke-width="0.8" stroke-dasharray="0.9 1.6"/>
<line x1="150.4" y1="285.3" x2="150.4" y2="479.3" stroke="#d0d0d0" stroke-width="0.8" stroke-dasharray="0.9 1.6"/>
<line x1="180.7" y1="285.3" x2="180.7" y2="479.3" stroke="#d0d0d0" stroke-width="0.8" stroke-dasharray="0.9 1.6"/>
<line x1="211" y1="285.3" x2="211" y2="479.3" stroke="#d0d0d0" stroke-width="0.8" stroke-dasharray="0.9 1.6"/>
<line x1="241.3" y1="285.3" x2="241.3" y2="479.3" stroke="#d0d0d0" stroke-width="0.8" stroke-dasharray="0.9 1.6"/>
<line x1="59.5" y1="447" x2="253.4" y2="447" stroke="#d0d0d0" stroke-width="0.8" stroke-dasharray="0.9 1.6"/>
<line x1="59.5" y1="414.6" x2="253.4" y2="414.6" stroke="#d0d0d0" stroke-width="0.8" stroke-dasharray="0.9 1.6"/>
<line x1="59.5" y1="382.3" x2="253.4" y2="382.3" stroke="#d0d0d0" stroke-width="0.8" stroke-dasharray="0.9 1.6"/>
<line x1="59.5" y1="350" x2="253.4" y2="350" stroke="#d0d0d0" stroke-width="0.8" stroke-dasharray="0.9 1.6"/>
<line x1="59.5" y1="317.6" x2="253.4" y2="317.6" stroke="#d0d0d0" stroke-width="0.8" stroke-dasharray="0.9 1.6"/>
<path d="M66.8 397.2L75.5 398.9L84.3 400.4L93 401.9L101.7 403.3L110.5 404.6L119.2 405.9L128 407.1L136.7 408.2L145.5 409.3L154.2 410.4L162.9 411.4L171.7 412.4L180.4 413.4L189.2 414.3L197.9 415.1L206.7 416L215.4 416.8L224.1 417.6L232.9 418.3L241.6 419.1L250.4 419.8M66.8 382.7L75.5 385.9L84.3 388.9L93 391.7L101.7 394.4L110.5 396.9L119.2 399.2L128 401.4L136.7 403.5L145.5 405.5L154.2 407.4L162.9 409.2L171.7 410.9L180.4 412.5L189.2 414L197.9 415.5L206.7 416.9L215.4 418.2L224.1 419.5L232.9 420.8L241.6 421.9L250.4 423.1M66.8 402L75.5 403.2L84.3 404.3L93 405.3L101.7 406.3L110.5 407.3L119.2 408.2L128 409.1L136.7 409.9L145.5 410.7L154.2 411.5L162.9 412.3L171.7 413L180.4 413.7L189.2 414.4L197.9 415L206.7 415.6L215.4 416.3L224.1 416.8L232.9 417.4L241.6 418L250.4 418.5M66.8 400.8L75.5 402.1L84.3 403.3L93 404.5L101.7 405.6L110.5 406.6L119.2 407.6L128 408.6L136.7 409.5L145.5 410.4L154.2 411.2L162.9 412L171.7 412.8L180.4 413.6L189.2 414.3L197.9 415L206.7 415.7L215.4 416.4L224.1 417L232.9 417.7L241.6 418.3L250.4 418.9M66.8 387.4L75.5 390.1L84.3 392.6L93 395L101.7 397.2L110.5 399.3L119.2 401.3L128 403.2L136.7 405L145.5 406.7L154.2 408.3L162.9 409.9L171.7 411.3L180.4 412.7L189.2 414.1L197.9 415.4L206.7 416.6L215.4 417.8L224.1 418.9L232.9 420L241.6 421.1L250.4 422.1M66.8 398.5L75.5 400L84.3 401.4L93 402.8L101.7 404.1L110.5 405.3L119.2 406.5L128 407.6L136.7 408.7L145.5 409.7L154.2 410.7L162.9 411.6L171.7 412.6L180.4 413.4L189.2 414.3L197.9 415.1L206.7 415.9L215.4 416.7L224.1 417.4L232.9 418.1L241.6 418.8L250.4 419.5M66.8 399.2L75.5 400.6L84.3 402L93 403.2L101.7 404.5L110.5 405.7L119.2 406.8L128 407.9L136.7 408.9L145.5 409.9L154.2 410.8L162.9 411.8L171.7 412.6L180.4 413.5L189.2 414.3L197.9 415.1L206.7 415.9L215.4 416.6L224.1 417.3L232.9 418L241.6 418.7L250.4 419.3M66.8 402.7L75.5 403.8L84.3 404.8L93 405.8L101.7 406.8L110.5 407.7L119.2 408.5L128 409.4L136.7 410.2L145.5 410.9L154.2 411.7L162.9 412.4L171.7 413.1L180.4 413.7L189.2 414.4L197.9 415L206.7 415.6L215.4 416.2L224.1 416.7L232.9 417.3L241.6 417.8L250.4 418.3M66.8 396.7L75.5 398.4L84.3 400L93 401.5L101.7 403L110.5 404.3L119.2 405.6L128 406.9L136.7 408.1L145.5 409.2L154.2 410.3L162.9 411.4L171.7 412.4L180.4 413.3L189.2 414.3L197.9 415.2L206.7 416L215.4 416.9L224.1 417.7L232.9 418.4L241.6 419.2L250.4 419.9M66.8 401.7L75.5 402.9L84.3 404L93 405.1L101.7 406.1L110.5 407.1L119.2 408L128 408.9L136.7 409.8L145.5 410.6L154.2 411.4L162.9 412.2L171.7 412.9L180.4 413.7L189.2 414.4L197.9 415L206.7 415.7L215.4 416.3L224.1 416.9L232.9 417.5L241.6 418.1L250.4 418.6M66.8 390.3L75.5 392.6L84.3 394.9L93 397L101.7 398.9L110.5 400.8L119.2 402.6L128 404.3L136.7 405.9L145.5 407.4L154.2 408.9L162.9 410.3L171.7 411.6L180.4 412.9L189.2 414.1L197.9 415.3L206.7 416.4L215.4 417.5L224.1 418.6L232.9 419.6L241.6 420.5L250.4 421.5M66.8 403L75.5 404.1L84.3 405.1L93 406L101.7 407L110.5 407.8L119.2 408.7L128 409.5L136.7 410.3L145.5 411L154.2 411.7L162.9 412.4L171.7 413.1L180.4 413.8L189.2 414.4L197.9 415L206.7 415.6L215.4 416.1L224.1 416.7L232.9 417.2L241.6 417.7L250.4 418.3M66.8 394.5L75.5 396.5L84.3 398.3L93 400L101.7 401.6L110.5 403.1L119.2 404.6L128 406L136.7 407.3L145.5 408.6L154.2 409.8L162.9 411L171.7 412.1L180.4 413.2L189.2 414.2L197.9 415.2L206.7 416.2L215.4 417.1L224.1 418L232.9 418.8L241.6 419.7L250.4 420.5M66.8 384.7L75.5 387.7L84.3 390.5L93 393.1L101.7 395.6L110.5 397.9L119.2 400.1L128 402.2L136.7 404.1L145.5 406L154.2 407.8L162.9 409.4L171.7 411.1L180.4 412.6L189.2 414L197.9 415.4L206.7 416.8L215.4 418.1L224.1 419.3L232.9 420.5L241.6 421.6L250.4 422.7M66.8 391.8L75.5 394L84.3 396.1L93 398.1L101.7 399.9L110.5 401.7L119.2 403.3L128 404.9L136.7 406.4L145.5 407.9L154.2 409.2L162.9 410.6L171.7 411.8L180.4 413L189.2 414.2L197.9 415.3L206.7 416.3L215.4 417.4L224.1 418.3L232.9 419.3L241.6 420.2L250.4 421.1M66.8 396.7L75.5 398.4L84.3 400L93 401.5L101.7 403L110.5 404.3L119.2 405.6L128 406.9L136.7 408.1L145.5 409.2L154.2 410.3L162.9 411.4L171.7 412.4L180.4 413.3L189.2 414.3L197.9 415.2L206.7 416L215.4 416.9L224.1 417.7L232.9 418.4L241.6 419.2L250.4 419.9M66.8 401.1L75.5 402.3L84.3 403.5L93 404.6L101.7 405.7L110.5 406.8L119.2 407.7L128 408.7L136.7 409.6L145.5 410.5L154.2 411.3L162.9 412.1L171.7 412.9L180.4 413.6L189.2 414.3L197.9 415L206.7 415.7L215.4 416.4L224.1 417L232.9 417.6L241.6 418.2L250.4 418.8M66.8 383.1L75.5 386.2L84.3 389.2L93 392L101.7 394.6L110.5 397L119.2 399.4L128 401.6L136.7 403.6L145.5 405.6L154.2 407.4L162.9 409.2L171.7 410.9L180.4 412.5L189.2 414L197.9 415.5L206.7 416.9L215.4 418.2L224.1 419.5L232.9 420.7L241.6 421.9L250.4 423M66.8 402.8L75.5 403.9L84.3 404.9L93 405.9L101.7 406.8L110.5 407.7L119.2 408.6L128 409.4L136.7 410.2L145.5 411L154.2 411.7L162.9 412.4L171.7 413.1L180.4 413.7L189.2 414.4L197.9 415L206.7 415.6L215.4 416.2L224.1 416.7L232.9 417.3L241.6 417.8L250.4 418.3M66.8 393.2L75.5 395.3L84.3 397.2L93 399L101.7 400.8L110.5 402.4L119.2 404L128 405.5L136.7 406.9L145.5 408.2L154.2 409.5L162.9 410.8L171.7 412L180.4 413.1L189.2 414.2L197.9 415.2L206.7 416.3L215.4 417.2L224.1 418.2L232.9 419.1L241.6 419.9L250.4 420.8M66.8 395.9L75.5 397.7L84.3 399.4L93 401L101.7 402.5L110.5 403.9L119.2 405.3L128 406.6L136.7 407.8L145.5 409L154.2 410.1L162.9 411.2L171.7 412.3L180.4 413.3L189.2 414.2L197.9 415.2L206.7 416.1L215.4 416.9L224.1 417.8L232.9 418.6L241.6 419.4L250.4 420.1M66.8 387.3L75.5 390L84.3 392.6L93 394.9L101.7 397.2L110.5 399.3L119.2 401.3L128 403.2L136.7 405L145.5 406.7L154.2 408.3L162.9 409.9L171.7 411.3L180.4 412.7L189.2 414.1L197.9 415.4L206.7 416.6L215.4 417.8L224.1 418.9L232.9 420L241.6 421.1L250.4 422.1M66.8 391.3L75.5 393.5L84.3 395.7L93 397.7L101.7 399.6L110.5 401.4L119.2 403.1L128 404.7L136.7 406.2L145.5 407.7L154.2 409.1L162.9 410.5L171.7 411.7L180.4 413L189.2 414.2L197.9 415.3L206.7 416.4L215.4 417.4L224.1 418.4L232.9 419.4L241.6 420.3L250.4 421.2M66.8 383.4L75.5 386.6L84.3 389.5L93 392.2L101.7 394.8L110.5 397.2L119.2 399.5L128 401.7L136.7 403.7L145.5 405.7L154.2 407.5L162.9 409.3L171.7 410.9L180.4 412.5L189.2 414L197.9 415.5L206.7 416.8L215.4 418.2L224.1 419.4L232.9 420.6L241.6 421.8L250.4 422.9M66.8 383.1L75.5 386.3L84.3 389.2L93 392L101.7 394.6L110.5 397.1L119.2 399.4L128 401.6L136.7 403.6L145.5 405.6L154.2 407.5L162.9 409.2L171.7 410.9L180.4 412.5L189.2 414L197.9 415.5L206.7 416.9L215.4 418.2L224.1 419.5L232.9 420.7L241.6 421.9L250.4 423M66.8 388.3L75.5 390.9L84.3 393.3L93 395.6L101.7 397.7L110.5 399.8L119.2 401.7L128 403.5L136.7 405.3L145.5 406.9L154.2 408.5L162.9 410L171.7 411.4L180.4 412.8L189.2 414.1L197.9 415.4L206.7 416.6L215.4 417.7L224.1 418.8L232.9 419.9L241.6 420.9L250.4 421.9M66.8 393.7L75.5 395.7L84.3 397.6L93 399.4L101.7 401.1L110.5 402.7L119.2 404.2L128 405.7L136.7 407L145.5 408.4L154.2 409.6L162.9 410.9L171.7 412L180.4 413.1L189.2 414.2L197.9 415.2L206.7 416.2L215.4 417.2L224.1 418.1L232.9 419L241.6 419.8L250.4 420.7M66.8 392.5L75.5 394.6L84.3 396.6L93 398.5L101.7 400.3L110.5 402L119.2 403.6L128 405.2L136.7 406.6L145.5 408L154.2 409.4L162.9 410.7L171.7 411.9L180.4 413.1L189.2 414.2L197.9 415.3L206.7 416.3L215.4 417.3L224.1 418.3L232.9 419.2L241.6 420.1L250.4 420.9M66.8 383.9L75.5 387L84.3 389.9L93 392.6L101.7 395.1L110.5 397.5L119.2 399.7L128 401.9L136.7 403.9L145.5 405.8L154.2 407.6L162.9 409.3L171.7 411L180.4 412.5L189.2 414L197.9 415.5L206.7 416.8L215.4 418.1L224.1 419.4L232.9 420.6L241.6 421.7L250.4 422.8M66.8 388.1L75.5 390.7L84.3 393.1L93 395.4L101.7 397.6L110.5 399.7L119.2 401.6L128 403.5L136.7 405.2L145.5 406.9L154.2 408.5L162.9 410L171.7 411.4L180.4 412.8L189.2 414.1L197.9 415.4L206.7 416.6L215.4 417.7L224.1 418.8L232.9 419.9L241.6 421L250.4 421.9M66.8 387.8L75.5 390.4L84.3 392.9L93 395.2L101.7 397.4L110.5 399.5L119.2 401.5L128 403.3L136.7 405.1L145.5 406.8L154.2 408.4L162.9 409.9L171.7 411.4L180.4 412.8L189.2 414.1L197.9 415.4L206.7 416.6L215.4 417.8L224.1 418.9L232.9 420L241.6 421L250.4 422M66.8 383.4L75.5 386.5L84.3 389.5L93 392.2L101.7 394.8L110.5 397.2L119.2 399.5L128 401.7L136.7 403.7L145.5 405.7L154.2 407.5L162.9 409.3L171.7 410.9L180.4 412.5L189.2 414L197.9 415.5L206.7 416.9L215.4 418.2L224.1 419.4L232.9 420.7L241.6 421.8L250.4 422.9M66.8 395.9L75.5 397.6L84.3 399.3L93 400.9L101.7 402.4L110.5 403.8L119.2 405.2L128 406.5L136.7 407.8L145.5 409L154.2 410.1L162.9 411.2L171.7 412.3L180.4 413.3L189.2 414.2L197.9 415.2L206.7 416.1L215.4 416.9L224.1 417.8L232.9 418.6L241.6 419.4L250.4 420.1M66.8 386L75.5 388.8L84.3 391.5L93 394L101.7 396.3L110.5 398.5L119.2 400.6L128 402.6L136.7 404.5L145.5 406.3L154.2 408L162.9 409.6L171.7 411.2L180.4 412.7L189.2 414.1L197.9 415.4L206.7 416.7L215.4 417.9L224.1 419.1L232.9 420.3L241.6 421.4L250.4 422.4M66.8 382L75.5 385.3L84.3 388.4L93 391.2L101.7 393.9L110.5 396.5L119.2 398.9L128 401.1L136.7 403.3L145.5 405.3L154.2 407.2L162.9 409L171.7 410.8L180.4 412.4L189.2 414L197.9 415.5L206.7 416.9L215.4 418.3L224.1 419.6L232.9 420.9L241.6 422.1L250.4 423.2M66.8 381.1L75.5 384.5L84.3 387.6L93 390.6L101.7 393.4L110.5 396L119.2 398.5L128 400.8L136.7 403L145.5 405.1L154.2 407L162.9 408.9L171.7 410.7L180.4 412.4L189.2 414L197.9 415.5L206.7 417L215.4 418.4L224.1 419.7L232.9 421L241.6 422.3L250.4 423.4M66.8 380.2L75.5 383.7L84.3 386.9L93 390L101.7 392.9L110.5 395.6L119.2 398.1L128 400.5L136.7 402.7L145.5 404.9L154.2 406.9L162.9 408.8L171.7 410.6L180.4 412.3L189.2 414L197.9 415.5L206.7 417.1L215.4 418.5L224.1 419.9L232.9 421.2L241.6 422.4L250.4 423.7M66.8 379.2L75.5 382.8L84.3 386.2L93 389.4L101.7 392.3L110.5 395.1L119.2 397.7L128 400.1L136.7 402.4L145.5 404.6L154.2 406.7L162.9 408.7L171.7 410.5L180.4 412.3L189.2 414L197.9 415.6L206.7 417.1L215.4 418.6L224.1 420L232.9 421.3L241.6 422.6L250.4 423.9M66.8 378.3L75.5 382L84.3 385.5L93 388.7L101.7 391.8L110.5 394.6L119.2 397.3L128 399.8L136.7 402.2L145.5 404.4L154.2 406.5L162.9 408.5L171.7 410.4L180.4 412.2L189.2 413.9L197.9 415.6L206.7 417.2L215.4 418.7L224.1 420.1L232.9 421.5L241.6 422.8L250.4 424.1M66.8 377.4L75.5 381.2L84.3 384.8L93 388.1L101.7 391.2L110.5 394.1L119.2 396.9L128 399.4L136.7 401.9L145.5 404.2L154.2 406.3L162.9 408.4L171.7 410.3L180.4 412.2L189.2 413.9L197.9 415.6L206.7 417.2L215.4 418.8L224.1 420.3L232.9 421.7L241.6 423L250.4 424.3M66.8 376.4L75.5 380.4L84.3 384L93 387.5L101.7 390.7L110.5 393.6L119.2 396.5L128 399.1L136.7 401.6L145.5 403.9L154.2 406.2L162.9 408.3L171.7 410.2L180.4 412.1L189.2 413.9L197.9 415.6L206.7 417.3L215.4 418.9L224.1 420.4L232.9 421.8L241.6 423.2L250.4 424.5M66.8 375.4L75.5 379.5L84.3 383.3L93 386.8L101.7 390.1L110.5 393.2L119.2 396L128 398.8L136.7 401.3L145.5 403.7L154.2 406L162.9 408.1L171.7 410.1L180.4 412.1L189.2 413.9L197.9 415.7L206.7 417.4L215.4 419L224.1 420.5L232.9 422L241.6 423.4L250.4 424.7M66.8 374.5L75.5 378.7L84.3 382.5L93 386.2L101.7 389.5L110.5 392.7L119.2 395.6L128 398.4L136.7 401L145.5 403.5L154.2 405.8L162.9 408L171.7 410.1L180.4 412L189.2 413.9L197.9 415.7L206.7 417.4L215.4 419.1L224.1 420.6L232.9 422.1L241.6 423.6L250.4 424.9M66.8 373.5L75.5 377.8L84.3 381.8L93 385.5L101.7 389L110.5 392.2L119.2 395.2L128 398.1L136.7 400.7L145.5 403.2L154.2 405.6L162.9 407.8L171.7 410L180.4 412L189.2 413.9L197.9 415.7L206.7 417.5L215.4 419.2L224.1 420.8L232.9 422.3L241.6 423.8L250.4 425.2M66.8 372.5L75.5 376.9L84.3 381L93 384.8L101.7 388.4L110.5 391.7L119.2 394.8L128 397.7L136.7 400.4L145.5 403L154.2 405.4L162.9 407.7L171.7 409.9L180.4 411.9L189.2 413.9L197.9 415.7L206.7 417.5L215.4 419.3L224.1 420.9L232.9 422.5L241.6 424L250.4 425.4M66.8 371.5L75.5 376.1L84.3 380.3L93 384.2L101.7 387.8L110.5 391.2L119.2 394.4L128 397.4L136.7 400.1L145.5 402.8L154.2 405.2L162.9 407.6L171.7 409.8L180.4 411.9L189.2 413.8L197.9 415.8L206.7 417.6L215.4 419.4L224.1 421L232.9 422.6L241.6 424.2L250.4 425.6M66.8 370.5L75.5 375.2L84.3 379.5L93 383.5L101.7 387.2L110.5 390.7L119.2 394L128 397L136.7 399.9L145.5 402.5L154.2 405.1L162.9 407.4L171.7 409.7L180.4 411.8L189.2 413.8L197.9 415.8L206.7 417.7L215.4 419.5L224.1 421.2L232.9 422.8L241.6 424.3L250.4 425.8M66.8 369.5L75.5 374.3L84.3 378.7L93 382.8L101.7 386.6L110.5 390.2L119.2 393.5L128 396.6L136.7 399.6L145.5 402.3L154.2 404.9L162.9 407.3L171.7 409.6L180.4 411.8L189.2 413.8L197.9 415.8L206.7 417.7L215.4 419.6L224.1 421.3L232.9 423L241.6 424.5L250.4 426M66.8 368.5L75.5 373.4L84.3 377.9L93 382.1L101.7 386.1L110.5 389.7L119.2 393.1L128 396.3L136.7 399.3L145.5 402.1L154.2 404.7L162.9 407.2L171.7 409.5L180.4 411.7L189.2 413.8L197.9 415.8L206.7 417.8L215.4 419.7L224.1 421.4L232.9 423.1L241.6 424.7L250.4 426.3M66.8 367.4L75.5 372.5L84.3 377.1L93 381.5L101.7 385.5L110.5 389.2L119.2 392.7L128 395.9L136.7 399L145.5 401.8L154.2 404.5L162.9 407L171.7 409.4L180.4 411.7L189.2 413.8L197.9 415.9L206.7 417.9L215.4 419.8L224.1 421.6L232.9 423.3L241.6 424.9L250.4 426.5M66.8 366.4L75.5 371.6L84.3 376.3L93 380.8L101.7 384.9L110.5 388.7L119.2 392.3L128 395.6L136.7 398.7L145.5 401.6L154.2 404.3L162.9 406.9L171.7 409.3L180.4 411.6L189.2 413.8L197.9 415.9L206.7 417.9L215.4 419.9L224.1 421.7L232.9 423.5L241.6 425.1L250.4 426.7M66.8 365.3L75.5 370.7L84.3 375.5L93 380.1L101.7 384.3L110.5 388.2L119.2 391.8L128 395.2L136.7 398.4L145.5 401.4L154.2 404.1L162.9 406.8L171.7 409.2L180.4 411.6L189.2 413.8L197.9 415.9L206.7 418L215.4 420L224.1 421.9L232.9 423.6L241.6 425.3L250.4 426.9M66.8 364.3L75.5 369.7L84.3 374.7L93 379.4L101.7 383.7L110.5 387.7L119.2 391.4L128 394.8L136.7 398.1L145.5 401.1L154.2 404L162.9 406.6L171.7 409.1L180.4 411.5L189.2 413.7L197.9 415.9L206.7 418.1L215.4 420.1L224.1 422L232.9 423.8L241.6 425.5L250.4 427.1M66.8 363.2L75.5 368.8L84.3 373.9L93 378.7L101.7 383.1L110.5 387.2L119.2 390.9L128 394.5L136.7 397.8L145.5 400.9L154.2 403.8L162.9 406.5L171.7 409L180.4 411.5L189.2 413.7L197.9 416L206.7 418.1L215.4 420.2L224.1 422.1L232.9 424L241.6 425.7L250.4 427.4M66.8 362.1L75.5 367.8L84.3 373.1L93 378L101.7 382.5L110.5 386.6L119.2 390.5L128 394.1L136.7 397.5L145.5 400.6L154.2 403.6L162.9 406.4L171.7 409L180.4 411.4L189.2 413.7L197.9 416L206.7 418.2L215.4 420.3L224.1 422.3L232.9 424.1L241.6 425.9L250.4 427.6M66.8 361L75.5 366.9L84.3 372.3L93 377.3L101.7 381.9L110.5 386.1L119.2 390.1L128 393.7L136.7 397.2L145.5 400.4L154.2 403.4L162.9 406.2L171.7 408.9L180.4 411.4L189.2 413.7L197.9 416L206.7 418.3L215.4 420.4L224.1 422.4L232.9 424.3L241.6 426.1L250.4 427.8M66.8 359.9L75.5 365.9L84.3 371.4L93 376.5L101.7 381.2L110.5 385.6L119.2 389.6L128 393.4L136.7 396.9L145.5 400.2L154.2 403.2L162.9 406.1L171.7 408.8L180.4 411.3L189.2 413.7L197.9 416L206.7 418.3L215.4 420.5L224.1 422.5L232.9 424.5L241.6 426.3L250.4 428M66.8 358.8L75.5 365L84.3 370.6L93 375.8L101.7 380.6L110.5 385.1L119.2 389.2L128 393L136.7 396.6L145.5 399.9L154.2 403L162.9 405.9L171.7 408.7L180.4 411.2L189.2 413.7L197.9 416.1L206.7 418.4L215.4 420.6L224.1 422.7L232.9 424.6L241.6 426.5L250.4 428.2M66.8 357.7L75.5 364L84.3 369.8L93 375.1L101.7 380L110.5 384.5L119.2 388.7L128 392.6L136.7 396.3L145.5 399.7L154.2 402.8L162.9 405.8L171.7 408.6L180.4 411.2L189.2 413.7L197.9 416.1L206.7 418.5L215.4 420.7L224.1 422.8L232.9 424.8L241.6 426.7L250.4 428.5M66.8 356.5L75.5 363L84.3 368.9L93 374.3L101.7 379.4L110.5 384L119.2 388.3L128 392.3L136.7 396L145.5 399.4L154.2 402.6L162.9 405.7L171.7 408.5L180.4 411.1L189.2 413.6L197.9 416.1L206.7 418.5L215.4 420.8L224.1 423L232.9 425L241.6 426.9L250.4 428.7M66.8 355.4L75.5 362L84.3 368.1L93 373.6L101.7 378.7L110.5 383.5L119.2 387.8L128 391.9L136.7 395.7L145.5 399.2L154.2 402.5L162.9 405.5L171.7 408.4L180.4 411.1L189.2 413.6L197.9 416.1L206.7 418.6L215.4 420.9L224.1 423.1L232.9 425.1L241.6 427.1L250.4 428.9M66.8 354.2L75.5 361L84.3 367.2L93 372.9L101.7 378.1L110.5 382.9L119.2 387.4L128 391.5L136.7 395.4L145.5 398.9L154.2 402.3L162.9 405.4L171.7 408.3L180.4 411L189.2 413.6L197.9 416.2L206.7 418.7L215.4 421L224.1 423.2L232.9 425.3L241.6 427.3L250.4 429.1M66.8 353.1L75.5 360L84.3 366.3L93 372.1L101.7 377.5L110.5 382.4L119.2 386.9L128 391.1L136.7 395L145.5 398.7L154.2 402.1L162.9 405.2L171.7 408.2L180.4 411L189.2 413.6L197.9 416.2L206.7 418.7L215.4 421.1L224.1 423.4L232.9 425.5L241.6 427.5L250.4 429.4M66.8 351.9L75.5 359L84.3 365.4L93 371.4L101.7 376.8L110.5 381.8L119.2 386.5L128 390.8L136.7 394.7L145.5 398.4L154.2 401.9L162.9 405.1L171.7 408.1L180.4 410.9L189.2 413.6L197.9 416.2L206.7 418.8L215.4 421.2L224.1 423.5L232.9 425.7L241.6 427.7L250.4 429.6M66.8 350.7L75.5 357.9L84.3 364.6L93 370.6L101.7 376.2L110.5 381.3L119.2 386L128 390.4L136.7 394.4L145.5 398.2L154.2 401.7L162.9 405L171.7 408L180.4 410.9L189.2 413.6L197.9 416.3L206.7 418.9L215.4 421.3L224.1 423.7L232.9 425.8L241.6 427.9L250.4 429.8M66.8 349.5L75.5 356.9L84.3 363.7L93 369.8L101.7 375.5L110.5 380.7L119.2 385.5L128 390L136.7 394.1L145.5 397.9L154.2 401.5L162.9 404.8L171.7 407.9L180.4 410.8L189.2 413.6L197.9 416.3L206.7 419L215.4 421.5L224.1 423.8L232.9 426L241.6 428.1L250.4 430M66.8 348.3L75.5 355.9L84.3 362.8L93 369.1L101.7 374.8L110.5 380.2L119.2 385.1L128 389.6L136.7 393.8L145.5 397.7L154.2 401.3L162.9 404.7L171.7 407.8L180.4 410.8L189.2 413.5L197.9 416.3L206.7 419L215.4 421.6L224.1 423.9L232.9 426.2L241.6 428.3L250.4 430.3M66.8 347.1L75.5 354.8L84.3 361.9L93 368.3L101.7 374.2L110.5 379.6L119.2 384.6L128 389.2L136.7 393.5L145.5 397.4L154.2 401.1L162.9 404.5L171.7 407.7L180.4 410.7L189.2 413.5L197.9 416.3L206.7 419.1L215.4 421.7L224.1 424.1L232.9 426.4L241.6 428.5L250.4 430.5M66.8 345.8L75.5 353.7L84.3 360.9L93 367.5L101.7 373.5L110.5 379L119.2 384.1L128 388.8L136.7 393.2L145.5 397.2L154.2 400.9L162.9 404.4L171.7 407.6L180.4 410.7L189.2 413.5L197.9 416.4L206.7 419.2L215.4 421.8L224.1 424.2L232.9 426.5L241.6 428.7L250.4 430.7M66.8 344.6L75.5 352.7L84.3 360L93 366.7L101.7 372.9L110.5 378.5L119.2 383.7L128 388.4L136.7 392.8L145.5 396.9L154.2 400.7L162.9 404.3L171.7 407.6L180.4 410.6L189.2 413.5L197.9 416.4L206.7 419.2L215.4 421.9L224.1 424.4L232.9 426.7L241.6 428.9L250.4 430.9M66.8 343.3L75.5 351.6L84.3 359.1L93 365.9L101.7 372.2L110.5 377.9L119.2 383.2L128 388L136.7 392.5L145.5 396.7L154.2 400.5L162.9 404.1L171.7 407.5L180.4 410.6L189.2 413.5L197.9 416.4L206.7 419.3L215.4 422L224.1 424.5L232.9 426.9L241.6 429.1L250.4 431.2M66.8 342.1L75.5 350.5L84.3 358.2L93 365.1L101.7 371.5L110.5 377.3L119.2 382.7L128 387.6L136.7 392.2L145.5 396.4L154.2 400.3L162.9 404L171.7 407.4L180.4 410.5L189.2 413.5L197.9 416.4L206.7 419.4L215.4 422.1L224.1 424.7L232.9 427.1L241.6 429.3L250.4 431.4M66.8 340.8L75.5 349.4L84.3 357.2L93 364.3L101.7 370.8L110.5 376.8L119.2 382.2L128 387.3L136.7 391.9L145.5 396.2L154.2 400.2L162.9 403.8L171.7 407.3L180.4 410.5L189.2 413.5L197.9 416.5L206.7 419.4L215.4 422.2L224.1 424.8L232.9 427.2L241.6 429.5L250.4 431.6M66.8 339.5L75.5 348.3L84.3 356.3L93 363.5L101.7 370.1L110.5 376.2L119.2 381.7L128 386.9L136.7 391.6L145.5 395.9L154.2 400L162.9 403.7L171.7 407.2L180.4 410.4L189.2 413.4L197.9 416.5L206.7 419.5L215.4 422.3L224.1 425L232.9 427.4L241.6 429.7L250.4 431.8M66.8 338.2L75.5 347.2L84.3 355.3L93 362.7L101.7 369.4L110.5 375.6L119.2 381.3L128 386.5L136.7 391.2L145.5 395.7L154.2 399.8L162.9 403.6L171.7 407.1L180.4 410.4L189.2 413.4L197.9 416.5L206.7 419.6L215.4 422.4L224.1 425.1L232.9 427.6L241.6 429.9L250.4 432.1M66.8 336.9L75.5 346L84.3 354.3L93 361.9L101.7 368.7L110.5 375L119.2 380.8L128 386.1L136.7 390.9L145.5 395.4L154.2 399.6L162.9 403.4L171.7 407L180.4 410.3L189.2 413.4L197.9 416.6L206.7 419.7L215.4 422.6L224.1 425.2L232.9 427.8L241.6 430.1L250.4 432.3M66.8 335.6L75.5 344.9L84.3 353.4L93 361.1L101.7 368L110.5 374.4L119.2 380.3L128 385.7L136.7 390.6L145.5 395.2L154.2 399.4L162.9 403.3L171.7 406.9L180.4 410.3L189.2 413.4L197.9 416.6L206.7 419.7L215.4 422.7L224.1 425.4L232.9 427.9L241.6 430.3L250.4 432.5M66.8 334.2L75.5 343.8L84.3 352.4L93 360.2L101.7 367.3L110.5 373.8L119.2 379.8L128 385.2L136.7 390.3L145.5 394.9L154.2 399.2L162.9 403.1L171.7 406.8L180.4 410.2L189.2 413.4L197.9 416.6L206.7 419.8L215.4 422.8L224.1 425.5L232.9 428.1L241.6 430.5L250.4 432.7M66.8 332.9L75.5 342.6L84.3 351.4L93 359.4L101.7 366.6L110.5 373.2L119.2 379.3L128 384.8L136.7 389.9L145.5 394.6L154.2 399L162.9 403L171.7 406.7L180.4 410.2L189.2 413.4L197.9 416.6L206.7 419.9L215.4 422.9L224.1 425.7L232.9 428.3L241.6 430.7L250.4 433M66.8 346.9L75.5 354.6L84.3 361.7L93 368.2L101.7 374.1L110.5 379.5L119.2 384.5L128 389.1L136.7 393.4L145.5 397.4L154.2 401.1L162.9 404.5L171.7 407.7L180.4 410.7L189.2 413.5L197.9 416.3L206.7 419.1L215.4 421.7L224.1 424.1L232.9 426.4L241.6 428.5L250.4 430.5M66.8 365.5L75.5 370.8L84.3 375.6L93 380.2L101.7 384.3L110.5 388.2L119.2 391.9L128 395.3L136.7 398.4L145.5 401.4L154.2 404.2L162.9 406.8L171.7 409.2L180.4 411.6L189.2 413.8L197.9 415.9L206.7 418L215.4 420L224.1 421.8L232.9 423.6L241.6 425.3L250.4 426.9M66.8 346.8L75.5 354.6L84.3 361.6L93 368.1L101.7 374L110.5 379.5L119.2 384.5L128 389.1L136.7 393.4L145.5 397.4L154.2 401.1L162.9 404.5L171.7 407.7L180.4 410.7L189.2 413.5L197.9 416.3L206.7 419.1L215.4 421.7L224.1 424.1L232.9 426.4L241.6 428.5L250.4 430.5M66.8 377.6L75.5 381.4L84.3 385L93 388.3L101.7 391.4L110.5 394.3L119.2 397L128 399.5L136.7 402L145.5 404.2L154.2 406.4L162.9 408.4L171.7 410.4L180.4 412.2L189.2 413.9L197.9 415.6L206.7 417.2L215.4 418.8L224.1 420.2L232.9 421.6L241.6 423L250.4 424.2M66.8 381.3L75.5 384.6L84.3 387.8L93 390.8L101.7 393.5L110.5 396.1L119.2 398.6L128 400.9L136.7 403.1L145.5 405.1L154.2 407.1L162.9 408.9L171.7 410.7L180.4 412.4L189.2 414L197.9 415.5L206.7 417L215.4 418.4L224.1 419.7L232.9 421L241.6 422.2L250.4 423.4M66.8 340.2L75.5 348.9L84.3 356.8L93 364L101.7 370.5L110.5 376.5L119.2 382L128 387.1L136.7 391.7L145.5 396.1L154.2 400.1L162.9 403.8L171.7 407.2L180.4 410.4L189.2 413.4L197.9 416.5L206.7 419.5L215.4 422.3L224.1 424.9L232.9 427.3L241.6 429.6L250.4 431.7M66.8 334.2L75.5 343.8L84.3 352.4L93 360.2L101.7 367.3L110.5 373.8L119.2 379.8L128 385.3L136.7 390.3L145.5 394.9L154.2 399.2L162.9 403.1L171.7 406.8L180.4 410.2L189.2 413.4L197.9 416.6L206.7 419.8L215.4 422.8L224.1 425.5L232.9 428.1L241.6 430.5L250.4 432.7M66.8 363.2L75.5 368.7L84.3 373.9L93 378.6L101.7 383L110.5 387.1L119.2 390.9L128 394.5L136.7 397.8L145.5 400.9L154.2 403.8L162.9 406.5L171.7 409L180.4 411.5L189.2 413.7L197.9 416L206.7 418.1L215.4 420.2L224.1 422.1L232.9 424L241.6 425.7L250.4 427.4M66.8 365.2L75.5 370.5L84.3 375.4L93 380L101.7 384.2L110.5 388.1L119.2 391.8L128 395.2L136.7 398.3L145.5 401.3L154.2 404.1L162.9 406.7L171.7 409.2L180.4 411.6L189.2 413.8L197.9 415.9L206.7 418L215.4 420L224.1 421.9L232.9 423.7L241.6 425.3L250.4 426.9M66.8 372.5L75.5 377L84.3 381L93 384.9L101.7 388.4L110.5 391.7L119.2 394.8L128 397.7L136.7 400.4L145.5 403L154.2 405.4L162.9 407.7L171.7 409.9L180.4 411.9L189.2 413.9L197.9 415.7L206.7 417.5L215.4 419.3L224.1 420.9L232.9 422.5L241.6 424L250.4 425.4M66.8 336.6L75.5 345.8L84.3 354.1L93 361.7L101.7 368.6L110.5 374.9L119.2 380.7L128 386L136.7 390.8L145.5 395.4L154.2 399.5L162.9 403.4L171.7 407L180.4 410.3L189.2 413.4L197.9 416.6L206.7 419.7L215.4 422.6L224.1 425.3L232.9 427.8L241.6 430.1L250.4 432.3M66.8 371.1L75.5 375.7L84.3 379.9L93 383.9L101.7 387.5L110.5 391L119.2 394.2L128 397.2L136.7 400L145.5 402.7L154.2 405.2L162.9 407.5L171.7 409.7L180.4 411.8L189.2 413.8L197.9 415.8L206.7 417.6L215.4 419.4L224.1 421.1L232.9 422.7L241.6 424.2L250.4 425.7M66.8 352.6L75.5 359.6L84.3 365.9L93 371.8L101.7 377.2L110.5 382.1L119.2 386.7L128 391L136.7 394.9L145.5 398.6L154.2 402L162.9 405.2L171.7 408.2L180.4 411L189.2 413.6L197.9 416.2L206.7 418.8L215.4 421.2L224.1 423.4L232.9 425.6L241.6 427.6L250.4 429.5M66.8 343.5L75.5 351.7L84.3 359.2L93 366L101.7 372.3L110.5 378L119.2 383.2L128 388.1L136.7 392.6L145.5 396.7L154.2 400.6L162.9 404.1L171.7 407.5L180.4 410.6L189.2 413.5L197.9 416.4L206.7 419.3L215.4 422L224.1 424.5L232.9 426.9L241.6 429.1L250.4 431.1M66.8 362.2L75.5 367.9L84.3 373.2L93 378L101.7 382.5L110.5 386.7L119.2 390.5L128 394.1L136.7 397.5L145.5 400.7L154.2 403.6L162.9 406.4L171.7 409L180.4 411.4L189.2 413.7L197.9 416L206.7 418.2L215.4 420.3L224.1 422.3L232.9 424.1L241.6 425.9L250.4 427.6M66.8 335.4L75.5 344.7L84.3 353.2L93 360.9L101.7 367.9L110.5 374.3L119.2 380.2L128 385.6L136.7 390.5L145.5 395.1L154.2 399.3L162.9 403.2L171.7 406.9L180.4 410.2L189.2 413.4L197.9 416.6L206.7 419.7L215.4 422.7L224.1 425.4L232.9 428L241.6 430.3L250.4 432.6M66.8 366.3L75.5 371.5L84.3 376.3L93 380.7L101.7 384.8L110.5 388.6L119.2 392.2L128 395.5L136.7 398.7L145.5 401.6L154.2 404.3L162.9 406.9L171.7 409.3L180.4 411.6L189.2 413.8L197.9 415.9L206.7 417.9L215.4 419.9L224.1 421.7L232.9 423.5L241.6 425.1L250.4 426.7M66.8 345.6L75.5 353.6L84.3 360.8L93 367.4L101.7 373.4L110.5 379L119.2 384.1L128 388.8L136.7 393.1L145.5 397.1L154.2 400.9L162.9 404.4L171.7 407.6L180.4 410.7L189.2 413.5L197.9 416.4L206.7 419.2L215.4 421.8L224.1 424.3L232.9 426.6L241.6 428.7L250.4 430.8M66.8 373.1L75.5 377.4L84.3 381.5L93 385.2L101.7 388.7L110.5 392L119.2 395L128 397.9L136.7 400.6L145.5 403.1L154.2 405.5L162.9 407.8L171.7 409.9L180.4 411.9L189.2 413.9L197.9 415.7L206.7 417.5L215.4 419.2L224.1 420.8L232.9 422.4L241.6 423.8L250.4 425.3M66.8 360.8L75.5 366.7L84.3 372.1L93 377.1L101.7 381.7L110.5 386L119.2 390L128 393.7L136.7 397.1L145.5 400.4L154.2 403.4L162.9 406.2L171.7 408.8L180.4 411.3L189.2 413.7L197.9 416L206.7 418.3L215.4 420.4L224.1 422.4L232.9 424.3L241.6 426.1L250.4 427.8M66.8 349.8L75.5 357.2L84.3 363.9L93 370L101.7 375.7L110.5 380.9L119.2 385.7L128 390.1L136.7 394.2L145.5 398L154.2 401.6L162.9 404.9L171.7 408L180.4 410.8L189.2 413.6L197.9 416.3L206.7 418.9L215.4 421.4L224.1 423.8L232.9 426L241.6 428L250.4 430M66.8 371.4L75.5 375.9L84.3 380.2L93 384.1L101.7 387.7L110.5 391.1L119.2 394.3L128 397.3L136.7 400.1L145.5 402.7L154.2 405.2L162.9 407.6L171.7 409.8L180.4 411.9L189.2 413.8L197.9 415.8L206.7 417.6L215.4 419.4L224.1 421.1L232.9 422.7L241.6 424.2L250.4 425.6M66.8 342.5L75.5 350.9L84.3 358.5L93 365.4L101.7 371.7L110.5 377.5L119.2 382.9L128 387.8L136.7 392.3L145.5 396.5L154.2 400.4L162.9 404L171.7 407.4L180.4 410.5L189.2 413.5L197.9 416.4L206.7 419.4L215.4 422.1L224.1 424.6L232.9 427L241.6 429.2L250.4 431.3M66.8 336.4L75.5 345.6L84.3 354L93 361.6L101.7 368.5L110.5 374.8L119.2 380.6L128 385.9L136.7 390.8L145.5 395.3L154.2 399.5L162.9 403.4L171.7 407L180.4 410.3L189.2 413.4L197.9 416.6L206.7 419.7L215.4 422.6L224.1 425.3L232.9 427.8L241.6 430.2L250.4 432.4M66.8 369.8L75.5 374.5L84.3 378.9L93 383L101.7 386.8L110.5 390.3L119.2 393.7L128 396.7L136.7 399.6L145.5 402.4L154.2 404.9L162.9 407.3L171.7 409.6L180.4 411.8L189.2 413.8L197.9 415.8L206.7 417.7L215.4 419.5L224.1 421.3L232.9 422.9L241.6 424.5L250.4 426M66.8 360.2L75.5 366.2L84.3 371.7L93 376.7L101.7 381.4L110.5 385.7L119.2 389.7L128 393.5L136.7 397L145.5 400.2L154.2 403.3L162.9 406.1L171.7 408.8L180.4 411.3L189.2 413.7L197.9 416L206.7 418.3L215.4 420.5L224.1 422.5L232.9 424.4L241.6 426.2L250.4 428M66.8 381.3L75.5 384.7L84.3 387.8L93 390.8L101.7 393.5L110.5 396.1L119.2 398.6L128 400.9L136.7 403.1L145.5 405.1L154.2 407.1L162.9 409L171.7 410.7L180.4 412.4L189.2 414L197.9 415.5L206.7 417L215.4 418.4L224.1 419.7L232.9 421L241.6 422.2L250.4 423.4M66.8 364.5L75.5 369.9L84.3 374.9L93 379.5L101.7 383.8L110.5 387.8L119.2 391.5L128 394.9L136.7 398.1L145.5 401.2L154.2 404L162.9 406.7L171.7 409.2L180.4 411.5L189.2 413.7L197.9 415.9L206.7 418.1L215.4 420.1L224.1 422L232.9 423.8L241.6 425.5L250.4 427.1M66.8 355.1L75.5 361.7L84.3 367.8L93 373.4L101.7 378.5L110.5 383.3L119.2 387.7L128 391.8L136.7 395.6L145.5 399.1L154.2 402.4L162.9 405.5L171.7 408.4L180.4 411.1L189.2 413.6L197.9 416.2L206.7 418.6L215.4 420.9L224.1 423.1L232.9 425.2L241.6 427.1L250.4 429M66.8 375.3L75.5 379.4L84.3 383.2L93 386.7L101.7 390L110.5 393.1L119.2 396L128 398.7L136.7 401.3L145.5 403.7L154.2 406L162.9 408.1L171.7 410.1L180.4 412.1L189.2 413.9L197.9 415.7L206.7 417.4L215.4 419L224.1 420.5L232.9 422L241.6 423.4L250.4 424.8M66.8 334.2L75.5 343.7L84.3 352.4L93 360.2L101.7 367.3L110.5 373.8L119.2 379.8L128 385.2L136.7 390.3L145.5 394.9L154.2 399.2L162.9 403.1L171.7 406.8L180.4 410.2L189.2 413.4L197.9 416.6L206.7 419.8L215.4 422.8L224.1 425.5L232.9 428.1L241.6 430.5L250.4 432.8M66.8 374.8L75.5 378.9L84.3 382.7L93 386.3L101.7 389.7L110.5 392.8L119.2 395.7L128 398.5L136.7 401.1L145.5 403.5L154.2 405.8L162.9 408L171.7 410.1L180.4 412L189.2 413.9L197.9 415.7L206.7 417.4L215.4 419L224.1 420.6L232.9 422.1L241.6 423.5L250.4 424.9M66.8 359.6L75.5 365.7L84.3 371.2L93 376.3L101.7 381.1L110.5 385.4L119.2 389.5L128 393.3L136.7 396.8L145.5 400.1L154.2 403.2L162.9 406L171.7 408.7L180.4 411.3L189.2 413.7L197.9 416L206.7 418.4L215.4 420.5L224.1 422.6L232.9 424.5L241.6 426.3L250.4 428.1M66.8 381.6L75.5 384.9L84.3 388.1L93 391L101.7 393.7L110.5 396.3L119.2 398.7L128 401L136.7 403.2L145.5 405.2L154.2 407.2L162.9 409L171.7 410.7L180.4 412.4L189.2 414L197.9 415.5L206.7 417L215.4 418.3L224.1 419.7L232.9 420.9L241.6 422.1L250.4 423.3M66.8 369.4L75.5 374.2L84.3 378.6L93 382.7L101.7 386.6L110.5 390.1L119.2 393.5L128 396.6L136.7 399.5L145.5 402.3L154.2 404.9L162.9 407.3L171.7 409.6L180.4 411.8L189.2 413.8L197.9 415.8L206.7 417.7L215.4 419.6L224.1 421.3L232.9 423L241.6 424.6L250.4 426.1M66.8 420.2L75.5 419.7L84.3 419.3L93 418.9L101.7 418.5L110.5 418.1L119.2 417.7L128 417.3L136.7 416.9L145.5 416.5L154.2 416.2L162.9 415.8L171.7 415.5L180.4 415.1L189.2 414.8L197.9 414.4L206.7 414.1L215.4 413.8L224.1 413.5L232.9 413.2L241.6 412.9L250.4 412.6M66.8 331.1L75.5 341.1L84.3 350.1L93 358.3L101.7 365.7L110.5 372.5L119.2 378.6L128 384.3L136.7 389.5L145.5 394.3L154.2 398.7L162.9 402.8L171.7 406.6L180.4 410.1L189.2 413.3L197.9 416.7L206.7 420L215.4 423L224.1 425.9L232.9 428.5L241.6 431L250.4 433.3" stroke="#7a7a7a" stroke-width="1.1" fill="none"/>
<clipPath id="dc"><path d="M66.3 280h5.7v205h-5.7zM74 280h5.7v205h-5.7zM81.7 280h5.7v205h-5.7zM89.5 280h5.7v205h-5.7zM97.2 280h5.7v205h-5.7zM104.9 280h5.7v205h-5.7zM112.6 280h5.7v205h-5.7zM120.3 280h5.7v205h-5.7zM128.1 280h5.7v205h-5.7zM135.8 280h5.7v205h-5.7zM143.5 280h5.7v205h-5.7zM151.2 280h5.7v205h-5.7zM158.9 280h5.7v205h-5.7zM166.7 280h5.7v205h-5.7zM174.4 280h5.7v205h-5.7zM182.1 280h5.7v205h-5.7zM189.8 280h5.7v205h-5.7zM197.5 280h5.7v205h-5.7zM205.3 280h5.7v205h-5.7zM213 280h5.7v205h-5.7zM220.7 280h5.7v205h-5.7zM228.4 280h5.7v205h-5.7zM236.1 280h5.7v205h-5.7zM243.9 280h5.7v205h-5.7zM251.6 280h5.7v205h-5.7z"/></clipPath>
<path d="M66.8 416.2L75.5 416.1L84.3 415.9L93 415.8L101.7 415.7L110.5 415.6L119.2 415.5L128 415.4L136.7 415.3L145.5 415.2L154.2 415.1L162.9 415L171.7 414.9L180.4 414.8L189.2 414.7L197.9 414.6L206.7 414.5L215.4 414.4L224.1 414.3L232.9 414.2L241.6 414.2L250.4 414.1M66.8 414.9L75.5 414.9L84.3 414.9L93 414.8L101.7 414.8L110.5 414.8L119.2 414.8L128 414.8L136.7 414.7L145.5 414.7L154.2 414.7L162.9 414.7L171.7 414.7L180.4 414.7L189.2 414.6L197.9 414.6L206.7 414.6L215.4 414.6L224.1 414.6L232.9 414.6L241.6 414.6L250.4 414.5M66.8 409.4L75.5 409.9L84.3 410.3L93 410.7L101.7 411.1L110.5 411.5L119.2 411.9L128 412.3L136.7 412.6L145.5 413L154.2 413.3L162.9 413.6L171.7 413.9L180.4 414.2L189.2 414.5L197.9 414.8L206.7 415.1L215.4 415.3L224.1 415.6L232.9 415.9L241.6 416.1L250.4 416.4M66.8 408L75.5 408.6L84.3 409.1L93 409.7L101.7 410.2L110.5 410.7L119.2 411.2L128 411.6L136.7 412.1L145.5 412.5L154.2 412.9L162.9 413.3L171.7 413.7L180.4 414.1L189.2 414.5L197.9 414.8L206.7 415.2L215.4 415.5L224.1 415.9L232.9 416.2L241.6 416.5L250.4 416.8M66.8 403.8L75.5 404.7L84.3 405.7L93 406.6L101.7 407.4L110.5 408.3L119.2 409L128 409.8L136.7 410.5L145.5 411.2L154.2 411.9L162.9 412.6L171.7 413.2L180.4 413.8L189.2 414.4L197.9 415L206.7 415.5L215.4 416.1L224.1 416.6L232.9 417.1L241.6 417.6L250.4 418M66.8 401.6L75.5 402.8L84.3 403.9L93 405L101.7 406L110.5 407L119.2 408L128 408.9L136.7 409.8L145.5 410.6L154.2 411.4L162.9 412.2L171.7 412.9L180.4 413.7L189.2 414.3L197.9 415L206.7 415.7L215.4 416.3L224.1 416.9L232.9 417.5L241.6 418.1L250.4 418.7M66.8 399.4L75.5 400.8L84.3 402.2L93 403.4L101.7 404.7L110.5 405.8L119.2 406.9L128 408L136.7 409L145.5 410L154.2 410.9L162.9 411.8L171.7 412.7L180.4 413.5L189.2 414.3L197.9 415.1L206.7 415.8L215.4 416.6L224.1 417.3L232.9 417.9L241.6 418.6L250.4 419.2M66.8 397.2L75.5 398.8L84.3 400.4L93 401.9L101.7 403.3L110.5 404.6L119.2 405.9L128 407.1L136.7 408.2L145.5 409.3L154.2 410.4L162.9 411.4L171.7 412.4L180.4 413.4L189.2 414.3L197.9 415.1L206.7 416L215.4 416.8L224.1 417.6L232.9 418.4L241.6 419.1L250.4 419.8M66.8 394.9L75.5 396.8L84.3 398.6L93 400.2L101.7 401.8L110.5 403.3L119.2 404.8L128 406.1L136.7 407.5L145.5 408.7L154.2 409.9L162.9 411.1L171.7 412.2L180.4 413.2L189.2 414.2L197.9 415.2L206.7 416.1L215.4 417L224.1 417.9L232.9 418.8L241.6 419.6L250.4 420.4M66.8 392.6L75.5 394.7L84.3 396.7L93 398.6L101.7 400.4L110.5 402.1L119.2 403.7L128 405.2L136.7 406.7L145.5 408.1L154.2 409.4L162.9 410.7L171.7 411.9L180.4 413.1L189.2 414.2L197.9 415.3L206.7 416.3L215.4 417.3L224.1 418.2L232.9 419.2L241.6 420.1L250.4 420.9M66.8 390.2L75.5 392.5L84.3 394.8L93 396.9L101.7 398.9L110.5 400.8L119.2 402.6L128 404.3L136.7 405.9L145.5 407.4L154.2 408.9L162.9 410.3L171.7 411.6L180.4 412.9L189.2 414.1L197.9 415.3L206.7 416.4L215.4 417.5L224.1 418.6L232.9 419.6L241.6 420.5L250.4 421.5M66.8 387.7L75.5 390.3L84.3 392.8L93 395.2L101.7 397.4L110.5 399.5L119.2 401.4L128 403.3L136.7 405.1L145.5 406.8L154.2 408.4L162.9 409.9L171.7 411.4L180.4 412.8L189.2 414.1L197.9 415.4L206.7 416.6L215.4 417.8L224.1 418.9L232.9 420L241.6 421L250.4 422M66.8 385.2L75.5 388.1L84.3 390.8L93 393.4L101.7 395.8L110.5 398.1L119.2 400.3L128 402.3L136.7 404.3L145.5 406.1L154.2 407.9L162.9 409.5L171.7 411.1L180.4 412.6L189.2 414.1L197.9 415.4L206.7 416.7L215.4 418L224.1 419.2L232.9 420.4L241.6 421.5L250.4 422.6M66.8 382.5L75.5 385.8L84.3 388.8L93 391.6L101.7 394.3L110.5 396.8L119.2 399.1L128 401.4L136.7 403.5L145.5 405.4L154.2 407.3L162.9 409.1L171.7 410.8L180.4 412.5L189.2 414L197.9 415.5L206.7 416.9L215.4 418.3L224.1 419.5L232.9 420.8L241.6 422L250.4 423.1M66.8 379.9L75.5 383.4L84.3 386.7L93 389.8L101.7 392.7L110.5 395.4L119.2 397.9L128 400.4L136.7 402.6L145.5 404.8L154.2 406.8L162.9 408.7L171.7 410.6L180.4 412.3L189.2 414L197.9 415.6L206.7 417.1L215.4 418.5L224.1 419.9L232.9 421.2L241.6 422.5L250.4 423.7M66.8 377.1L75.5 381L84.3 384.6L93 387.9L101.7 391.1L110.5 394L119.2 396.8L128 399.3L136.7 401.8L145.5 404.1L154.2 406.3L162.9 408.3L171.7 410.3L180.4 412.2L189.2 413.9L197.9 415.6L206.7 417.3L215.4 418.8L224.1 420.3L232.9 421.7L241.6 423.1L250.4 424.4M66.8 340.8L75.5 349.4L84.3 357.2L93 364.3L101.7 370.8L110.5 376.8L119.2 382.2L128 387.3L136.7 391.9L145.5 396.2L154.2 400.2L162.9 403.8L171.7 407.3L180.4 410.5L189.2 413.5L197.9 416.5L206.7 419.4L215.4 422.2L224.1 424.8L232.9 427.2L241.6 429.5L250.4 431.6M66.8 360.5L75.5 366.5L84.3 371.9L93 376.9L101.7 381.6L110.5 385.9L119.2 389.9L128 393.6L136.7 397L145.5 400.3L154.2 403.3L162.9 406.2L171.7 408.8L180.4 411.3L189.2 413.7L197.9 416L206.7 418.3L215.4 420.4L224.1 422.5L232.9 424.4L241.6 426.2L250.4 427.9M66.8 337.9L75.5 346.9L84.3 355.1L93 362.5L101.7 369.3L110.5 375.5L119.2 381.2L128 386.4L136.7 391.2L145.5 395.6L154.2 399.7L162.9 403.5L171.7 407.1L180.4 410.4L189.2 413.4L197.9 416.5L206.7 419.6L215.4 422.5L224.1 425.1L232.9 427.6L241.6 429.9L250.4 432.1M66.8 340L75.5 348.7L84.3 356.6L93 363.8L101.7 370.4L110.5 376.4L119.2 381.9L128 387L136.7 391.7L145.5 396L154.2 400L162.9 403.7L171.7 407.2L180.4 410.4L189.2 413.4L197.9 416.5L206.7 419.5L215.4 422.3L224.1 424.9L232.9 427.3L241.6 429.6L250.4 431.8M66.8 359.3L75.5 365.4L84.3 371L93 376.1L101.7 380.9L110.5 385.3L119.2 389.4L128 393.2L136.7 396.7L145.5 400L154.2 403.1L162.9 406L171.7 408.7L180.4 411.3L189.2 413.7L197.9 416.1L206.7 418.4L215.4 420.6L224.1 422.6L232.9 424.6L241.6 426.4L250.4 428.1M66.8 371.6L75.5 376.1L84.3 380.3L93 384.2L101.7 387.9L110.5 391.2L119.2 394.4L128 397.4L136.7 400.2L145.5 402.8L154.2 405.3L162.9 407.6L171.7 409.8L180.4 411.9L189.2 413.8L197.9 415.8L206.7 417.6L215.4 419.4L224.1 421L232.9 422.6L241.6 424.1L250.4 425.6M66.8 340.5L75.5 349.1L84.3 357L93 364.1L101.7 370.7L110.5 376.6L119.2 382.1L128 387.2L136.7 391.8L145.5 396.1L154.2 400.1L162.9 403.8L171.7 407.2L180.4 410.5L189.2 413.4L197.9 416.5L206.7 419.5L215.4 422.2L224.1 424.8L232.9 427.3L241.6 429.5L250.4 431.7M66.8 334.4L75.5 343.9L84.3 352.5L93 360.3L101.7 367.4L110.5 373.9L119.2 379.8L128 385.3L136.7 390.3L145.5 394.9L154.2 399.2L162.9 403.1L171.7 406.8L180.4 410.2L189.2 413.4L197.9 416.6L206.7 419.8L215.4 422.8L224.1 425.5L232.9 428.1L241.6 430.5L250.4 432.7M66.8 367.9L75.5 372.9L84.3 377.5L93 381.7L101.7 385.7L110.5 389.4L119.2 392.9L128 396.1L136.7 399.1L145.5 401.9L154.2 404.6L162.9 407.1L171.7 409.5L180.4 411.7L189.2 413.8L197.9 415.9L206.7 417.8L215.4 419.7L224.1 421.5L232.9 423.2L241.6 424.8L250.4 426.4M66.8 374.9L75.5 379.1L84.3 382.9L93 386.5L101.7 389.8L110.5 392.9L119.2 395.8L128 398.6L136.7 401.1L145.5 403.6L154.2 405.9L162.9 408L171.7 410.1L180.4 412L189.2 413.9L197.9 415.7L206.7 417.4L215.4 419L224.1 420.6L232.9 422.1L241.6 423.5L250.4 424.8M66.8 338.6L75.5 347.5L84.3 355.6L93 362.9L101.7 369.7L110.5 375.8L119.2 381.4L128 386.6L136.7 391.3L145.5 395.7L154.2 399.8L162.9 403.6L171.7 407.1L180.4 410.4L189.2 413.4L197.9 416.5L206.7 419.6L215.4 422.4L224.1 425.1L232.9 427.5L241.6 429.8L250.4 432M66.8 350.9L75.5 358.1L84.3 364.7L93 370.7L101.7 376.3L110.5 381.4L119.2 386.1L128 390.4L136.7 394.5L145.5 398.2L154.2 401.7L162.9 405L171.7 408L180.4 410.9L189.2 413.6L197.9 416.2L206.7 418.9L215.4 421.3L224.1 423.6L232.9 425.8L241.6 427.8L250.4 429.8M66.8 367.2L75.5 372.2L84.3 376.9L93 381.3L101.7 385.3L110.5 389.1L119.2 392.6L128 395.8L136.7 398.9L145.5 401.8L154.2 404.5L162.9 407L171.7 409.4L180.4 411.6L189.2 413.8L197.9 415.9L206.7 417.9L215.4 419.8L224.1 421.6L232.9 423.3L241.6 425L250.4 426.5M66.8 370.9L75.5 375.5L84.3 379.8L93 383.8L101.7 387.5L110.5 390.9L119.2 394.1L128 397.1L136.7 400L145.5 402.6L154.2 405.1L162.9 407.5L171.7 409.7L180.4 411.8L189.2 413.8L197.9 415.8L206.7 417.7L215.4 419.4L224.1 421.1L232.9 422.7L241.6 424.3L250.4 425.7M66.8 356.4L75.5 362.8L84.3 368.8L93 374.2L101.7 379.3L110.5 383.9L119.2 388.2L128 392.2L136.7 395.9L145.5 399.4L154.2 402.6L162.9 405.6L171.7 408.5L180.4 411.1L189.2 413.6L197.9 416.1L206.7 418.5L215.4 420.8L224.1 423L232.9 425L241.6 426.9L250.4 428.7M66.8 334L75.5 343.6L84.3 352.2L93 360.1L101.7 367.2L110.5 373.8L119.2 379.7L128 385.2L136.7 390.2L145.5 394.9L154.2 399.1L162.9 403.1L171.7 406.8L180.4 410.2L189.2 413.4L197.9 416.6L206.7 419.8L215.4 422.8L224.1 425.6L232.9 428.1L241.6 430.5L250.4 432.8M66.8 371.1L75.5 375.7L84.3 380L93 383.9L101.7 387.6L110.5 391L119.2 394.2L128 397.2L136.7 400L145.5 402.7L154.2 405.2L162.9 407.5L171.7 409.7L180.4 411.8L189.2 413.8L197.9 415.8L206.7 417.6L215.4 419.4L224.1 421.1L232.9 422.7L241.6 424.2L250.4 425.7M66.8 345.1L75.5 353.1L84.3 360.4L93 367L101.7 373.1L110.5 378.7L119.2 383.9L128 388.6L136.7 393L145.5 397L154.2 400.8L162.9 404.3L171.7 407.6L180.4 410.6L189.2 413.5L197.9 416.4L206.7 419.2L215.4 421.8L224.1 424.3L232.9 426.6L241.6 428.8L250.4 430.8M66.8 367.5L75.5 372.5L84.3 377.2L93 381.5L101.7 385.5L110.5 389.2L119.2 392.7L128 395.9L136.7 399L145.5 401.8L154.2 404.5L162.9 407L171.7 409.4L180.4 411.7L189.2 413.8L197.9 415.9L206.7 417.9L215.4 419.8L224.1 421.6L232.9 423.3L241.6 424.9L250.4 426.5M66.8 351.7L75.5 358.8L84.3 365.3L93 371.3L101.7 376.7L110.5 381.8L119.2 386.4L128 390.7L136.7 394.7L145.5 398.4L154.2 401.9L162.9 405.1L171.7 408.1L180.4 410.9L189.2 413.6L197.9 416.2L206.7 418.8L215.4 421.3L224.1 423.5L232.9 425.7L241.6 427.7L250.4 429.6M66.8 358.8L75.5 364.9L84.3 370.6L93 375.8L101.7 380.6L110.5 385L119.2 389.2L128 393L136.7 396.6L145.5 399.9L154.2 403L162.9 405.9L171.7 408.7L180.4 411.2L189.2 413.7L197.9 416.1L206.7 418.4L215.4 420.6L224.1 422.7L232.9 424.6L241.6 426.5L250.4 428.3M66.8 353L75.5 359.9L84.3 366.2L93 372.1L101.7 377.4L110.5 382.3L119.2 386.9L128 391.1L136.7 395L145.5 398.7L154.2 402.1L162.9 405.2L171.7 408.2L180.4 411L189.2 413.6L197.9 416.2L206.7 418.7L215.4 421.1L224.1 423.4L232.9 425.5L241.6 427.5L250.4 429.4M66.8 372.5L75.5 376.9L84.3 381L93 384.8L101.7 388.4L110.5 391.7L119.2 394.8L128 397.7L136.7 400.4L145.5 403L154.2 405.4L162.9 407.7L171.7 409.9L180.4 411.9L189.2 413.9L197.9 415.7L206.7 417.6L215.4 419.3L224.1 420.9L232.9 422.5L241.6 424L250.4 425.4M66.8 337.6L75.5 346.6L84.3 354.8L93 362.3L101.7 369.1L110.5 375.3L119.2 381L128 386.3L136.7 391.1L145.5 395.5L154.2 399.7L162.9 403.5L171.7 407L180.4 410.3L189.2 413.4L197.9 416.5L206.7 419.6L215.4 422.5L224.1 425.2L232.9 427.7L241.6 430L250.4 432.2M66.8 330.7L75.5 340.8L84.3 349.8L93 358.1L101.7 365.5L110.5 372.3L119.2 378.5L128 384.2L136.7 389.4L145.5 394.2L154.2 398.7L162.9 402.8L171.7 406.6L180.4 410.1L189.2 413.3L197.9 416.7L206.7 420L215.4 423.1L224.1 425.9L232.9 428.6L241.6 431L250.4 433.3M66.8 356.4L75.5 362.8L84.3 368.8L93 374.2L101.7 379.3L110.5 383.9L119.2 388.2L128 392.2L136.7 395.9L145.5 399.4L154.2 402.6L162.9 405.6L171.7 408.5L180.4 411.1L189.2 413.6L197.9 416.1L206.7 418.5L215.4 420.8L224.1 423L232.9 425L241.6 426.9L250.4 428.7M66.8 360.7L75.5 366.6L84.3 372.1L93 377.1L101.7 381.7L110.5 386L119.2 390L128 393.7L136.7 397.1L145.5 400.3L154.2 403.4L162.9 406.2L171.7 408.8L180.4 411.3L189.2 413.7L197.9 416L206.7 418.3L215.4 420.4L224.1 422.4L232.9 424.3L241.6 426.1L250.4 427.9M66.8 341.5L75.5 350L84.3 357.8L93 364.8L101.7 371.2L110.5 377.1L119.2 382.5L128 387.5L136.7 392.1L145.5 396.3L154.2 400.3L162.9 403.9L171.7 407.3L180.4 410.5L189.2 413.5L197.9 416.5L206.7 419.4L215.4 422.2L224.1 424.7L232.9 427.1L241.6 429.4L250.4 431.5M66.8 371.1L75.5 375.7L84.3 379.9L93 383.9L101.7 387.6L110.5 391L119.2 394.2L128 397.2L136.7 400L145.5 402.7L154.2 405.2L162.9 407.5L171.7 409.7L180.4 411.8L189.2 413.8L197.9 415.8L206.7 417.6L215.4 419.4L224.1 421.1L232.9 422.7L241.6 424.2L250.4 425.7M66.8 375.1L75.5 379.2L84.3 383L93 386.6L101.7 389.9L110.5 393L119.2 395.9L128 398.6L136.7 401.2L145.5 403.6L154.2 405.9L162.9 408.1L171.7 410.1L180.4 412.1L189.2 413.9L197.9 415.7L206.7 417.4L215.4 419L224.1 420.6L232.9 422L241.6 423.5L250.4 424.8M66.8 345.4L75.5 353.4L84.3 360.6L93 367.2L101.7 373.3L110.5 378.9L119.2 384L128 388.7L136.7 393.1L145.5 397.1L154.2 400.9L162.9 404.4L171.7 407.6L180.4 410.7L189.2 413.5L197.9 416.4L206.7 419.2L215.4 421.8L224.1 424.3L232.9 426.6L241.6 428.8L250.4 430.8M66.8 354L75.5 360.8L84.3 367L93 372.7L101.7 377.9L110.5 382.8L119.2 387.3L128 391.4L136.7 395.3L145.5 398.9L154.2 402.2L162.9 405.4L171.7 408.3L180.4 411L189.2 413.6L197.9 416.2L206.7 418.7L215.4 421.1L224.1 423.3L232.9 425.4L241.6 427.3L250.4 429.2M66.8 349.7L75.5 357.1L84.3 363.8L93 370L101.7 375.6L110.5 380.8L119.2 385.6L128 390.1L136.7 394.2L145.5 398L154.2 401.5L162.9 404.9L171.7 407.9L180.4 410.8L189.2 413.6L197.9 416.3L206.7 418.9L215.4 421.4L224.1 423.8L232.9 426L241.6 428L250.4 430M66.8 376.8L75.5 380.7L84.3 384.3L93 387.7L101.7 390.9L110.5 393.8L119.2 396.6L128 399.2L136.7 401.7L145.5 404L154.2 406.2L162.9 408.3L171.7 410.3L180.4 412.1L189.2 413.9L197.9 415.6L206.7 417.3L215.4 418.8L224.1 420.3L232.9 421.8L241.6 423.1L250.4 424.4M66.8 337.6L75.5 346.6L84.3 354.8L93 362.3L101.7 369.1L110.5 375.3L119.2 381L128 386.3L136.7 391.1L145.5 395.5L154.2 399.7L162.9 403.5L171.7 407L180.4 410.3L189.2 413.4L197.9 416.5L206.7 419.6L215.4 422.5L224.1 425.2L232.9 427.7L241.6 430L250.4 432.2M66.8 347.9L75.5 355.5L84.3 362.5L93 368.8L101.7 374.6L110.5 380L119.2 384.9L128 389.5L136.7 393.7L145.5 397.6L154.2 401.3L162.9 404.6L171.7 407.8L180.4 410.8L189.2 413.5L197.9 416.3L206.7 419L215.4 421.6L224.1 424L232.9 426.2L241.6 428.3L250.4 430.3M66.8 373.4L75.5 377.7L84.3 381.7L93 385.4L101.7 388.9L110.5 392.1L119.2 395.2L128 398L136.7 400.7L145.5 403.2L154.2 405.6L162.9 407.8L171.7 410L180.4 412L189.2 413.9L197.9 415.7L206.7 417.5L215.4 419.2L224.1 420.8L232.9 422.3L241.6 423.8L250.4 425.2M66.8 348.3L75.5 355.8L84.3 362.7L93 369L101.7 374.8L110.5 380.2L119.2 385.1L128 389.6L136.7 393.8L145.5 397.7L154.2 401.3L162.9 404.7L171.7 407.8L180.4 410.8L189.2 413.5L197.9 416.3L206.7 419L215.4 421.6L224.1 423.9L232.9 426.2L241.6 428.3L250.4 430.3M66.8 331L75.5 341L84.3 350L93 358.2L101.7 365.7L110.5 372.4L119.2 378.6L128 384.3L136.7 389.5L145.5 394.3L154.2 398.7L162.9 402.8L171.7 406.6L180.4 410.1L189.2 413.3L197.9 416.7L206.7 420L215.4 423L224.1 425.9L232.9 428.5L241.6 431L250.4 433.3M66.8 367.3L75.5 372.3L84.3 377L93 381.4L101.7 385.4L110.5 389.1L119.2 392.6L128 395.9L136.7 398.9L145.5 401.8L154.2 404.5L162.9 407L171.7 409.4L180.4 411.7L189.2 413.8L197.9 415.9L206.7 417.9L215.4 419.8L224.1 421.6L232.9 423.3L241.6 425L250.4 426.5M66.8 333.1L75.5 342.8L84.3 351.5L93 359.5L101.7 366.7L110.5 373.3L119.2 379.4L128 384.9L136.7 390L145.5 394.7L154.2 399L162.9 403L171.7 406.7L180.4 410.2L189.2 413.4L197.9 416.6L206.7 419.9L215.4 422.9L224.1 425.7L232.9 428.3L241.6 430.7L250.4 432.9M66.8 332.1L75.5 342L84.3 350.9L93 358.9L101.7 366.3L110.5 372.9L119.2 379L128 384.6L136.7 389.8L145.5 394.5L154.2 398.9L162.9 402.9L171.7 406.6L180.4 410.1L189.2 413.4L197.9 416.7L206.7 419.9L215.4 423L224.1 425.8L232.9 428.4L241.6 430.8L250.4 433.1M66.8 338.8L75.5 347.6L84.3 355.7L93 363L101.7 369.7L110.5 375.9L119.2 381.5L128 386.6L136.7 391.4L145.5 395.8L154.2 399.8L162.9 403.6L171.7 407.1L180.4 410.4L189.2 413.4L197.9 416.5L206.7 419.6L215.4 422.4L224.1 425L232.9 427.5L241.6 429.8L250.4 432M66.8 356.7L75.5 363.2L84.3 369.1L93 374.5L101.7 379.5L110.5 384.1L119.2 388.4L128 392.3L136.7 396L145.5 399.5L154.2 402.7L162.9 405.7L171.7 408.5L180.4 411.2L189.2 413.6L197.9 416.1L206.7 418.5L215.4 420.8L224.1 422.9L232.9 424.9L241.6 426.9L250.4 428.7M66.8 358.8L75.5 364.9L84.3 370.6L93 375.8L101.7 380.6L110.5 385L119.2 389.2L128 393L136.7 396.6L145.5 399.9L154.2 403L162.9 405.9L171.7 408.7L180.4 411.2L189.2 413.7L197.9 416.1L206.7 418.4L215.4 420.6L224.1 422.7L232.9 424.6L241.6 426.5L250.4 428.3M66.8 362.6L75.5 368.3L84.3 373.5L93 378.3L101.7 382.8L110.5 386.9L119.2 390.7L128 394.3L136.7 397.6L145.5 400.7L154.2 403.7L162.9 406.4L171.7 409L180.4 411.4L189.2 413.7L197.9 416L206.7 418.2L215.4 420.2L224.1 422.2L232.9 424.1L241.6 425.8L250.4 427.5M66.8 341.8L75.5 350.2L84.3 357.9L93 364.9L101.7 371.3L110.5 377.2L119.2 382.6L128 387.5L136.7 392.1L145.5 396.4L154.2 400.3L162.9 403.9L171.7 407.3L180.4 410.5L189.2 413.5L197.9 416.5L206.7 419.4L215.4 422.1L224.1 424.7L232.9 427.1L241.6 429.3L250.4 431.4M66.8 371.8L75.5 376.3L84.3 380.5L93 384.4L101.7 388L110.5 391.3L119.2 394.5L128 397.5L136.7 400.2L145.5 402.8L154.2 405.3L162.9 407.6L171.7 409.8L180.4 411.9L189.2 413.8L197.9 415.8L206.7 417.6L215.4 419.3L224.1 421L232.9 422.6L241.6 424.1L250.4 425.5M66.8 354.6L75.5 361.3L84.3 367.5L93 373.1L101.7 378.3L110.5 383.1L119.2 387.5L128 391.6L136.7 395.5L145.5 399L154.2 402.3L162.9 405.4L171.7 408.3L180.4 411.1L189.2 413.6L197.9 416.2L206.7 418.7L215.4 421L224.1 423.2L232.9 425.3L241.6 427.2L250.4 429.1M66.8 354L75.5 360.8L84.3 367L93 372.7L101.7 377.9L110.5 382.8L119.2 387.3L128 391.4L136.7 395.3L145.5 398.9L154.2 402.2L162.9 405.4L171.7 408.3L180.4 411L189.2 413.6L197.9 416.2L206.7 418.7L215.4 421.1L224.1 423.3L232.9 425.4L241.6 427.3L250.4 429.2M66.8 333.8L75.5 343.4L84.3 352.1L93 359.9L101.7 367.1L110.5 373.7L119.2 379.6L128 385.1L136.7 390.2L145.5 394.8L154.2 399.1L162.9 403.1L171.7 406.8L180.4 410.2L189.2 413.4L197.9 416.6L206.7 419.8L215.4 422.8L224.1 425.6L232.9 428.2L241.6 430.6L250.4 432.8M66.8 335L75.5 344.5L84.3 353L93 360.7L101.7 367.8L110.5 374.2L119.2 380.1L128 385.5L136.7 390.5L145.5 395.1L154.2 399.3L162.9 403.2L171.7 406.9L180.4 410.2L189.2 413.4L197.9 416.6L206.7 419.8L215.4 422.7L224.1 425.4L232.9 428L241.6 430.4L250.4 432.6M66.8 357L75.5 363.4L84.3 369.3L93 374.7L101.7 379.6L110.5 384.2L119.2 388.5L128 392.4L136.7 396.1L145.5 399.5L154.2 402.7L162.9 405.7L171.7 408.5L180.4 411.2L189.2 413.6L197.9 416.1L206.7 418.5L215.4 420.8L224.1 422.9L232.9 424.9L241.6 426.8L250.4 428.6M66.8 351.4L75.5 358.6L84.3 365.1L93 371.1L101.7 376.5L110.5 381.6L119.2 386.3L128 390.6L136.7 394.6L145.5 398.3L154.2 401.8L162.9 405.1L171.7 408.1L180.4 410.9L189.2 413.6L197.9 416.2L206.7 418.8L215.4 421.3L224.1 423.6L232.9 425.7L241.6 427.8L250.4 429.7M66.8 345.9L75.5 353.8L84.3 361L93 367.5L101.7 373.6L110.5 379.1L119.2 384.2L128 388.8L136.7 393.2L145.5 397.2L154.2 400.9L162.9 404.4L171.7 407.7L180.4 410.7L189.2 413.5L197.9 416.4L206.7 419.2L215.4 421.8L224.1 424.2L232.9 426.5L241.6 428.7L250.4 430.7M66.8 377.1L75.5 381L84.3 384.6L93 387.9L101.7 391.1L110.5 394L119.2 396.8L128 399.3L136.7 401.8L145.5 404.1L154.2 406.3L162.9 408.3L171.7 410.3L180.4 412.2L189.2 413.9L197.9 415.6L206.7 417.3L215.4 418.8L224.1 420.3L232.9 421.7L241.6 423.1L250.4 424.4M66.8 375.7L75.5 379.8L84.3 383.5L93 387L101.7 390.3L110.5 393.3L119.2 396.2L128 398.9L136.7 401.4L145.5 403.8L154.2 406L162.9 408.2L171.7 410.2L180.4 412.1L189.2 413.9L197.9 415.7L206.7 417.3L215.4 418.9L224.1 420.5L232.9 421.9L241.6 423.3L250.4 424.7M66.8 374.4L75.5 378.6L84.3 382.5L93 386.1L101.7 389.5L110.5 392.6L119.2 395.6L128 398.4L136.7 401L145.5 403.4L154.2 405.8L162.9 408L171.7 410L180.4 412L189.2 413.9L197.9 415.7L206.7 417.4L215.4 419.1L224.1 420.7L232.9 422.2L241.6 423.6L250.4 425M66.8 373L75.5 377.4L84.3 381.4L93 385.2L101.7 388.7L110.5 391.9L119.2 395L128 397.9L136.7 400.6L145.5 403.1L154.2 405.5L162.9 407.8L171.7 409.9L180.4 411.9L189.2 413.9L197.9 415.7L206.7 417.5L215.4 419.2L224.1 420.8L232.9 422.4L241.6 423.9L250.4 425.3M66.8 371.6L75.5 376.1L84.3 380.3L93 384.2L101.7 387.9L110.5 391.2L119.2 394.4L128 397.4L136.7 400.2L145.5 402.8L154.2 405.3L162.9 407.6L171.7 409.8L180.4 411.9L189.2 413.8L197.9 415.8L206.7 417.6L215.4 419.4L224.1 421L232.9 422.6L241.6 424.1L250.4 425.6M66.8 370.2L75.5 374.9L84.3 379.2L93 383.3L101.7 387L110.5 390.5L119.2 393.8L128 396.9L136.7 399.8L145.5 402.5L154.2 405L162.9 407.4L171.7 409.7L180.4 411.8L189.2 413.8L197.9 415.8L206.7 417.7L215.4 419.5L224.1 421.2L232.9 422.9L241.6 424.4L250.4 425.9M66.8 368.7L75.5 373.6L84.3 378.1L93 382.3L101.7 386.2L110.5 389.8L119.2 393.2L128 396.4L136.7 399.3L145.5 402.1L154.2 404.7L162.9 407.2L171.7 409.5L180.4 411.7L189.2 413.8L197.9 415.8L206.7 417.8L215.4 419.6L224.1 421.4L232.9 423.1L241.6 424.7L250.4 426.2M66.8 367.3L75.5 372.3L84.3 377L93 381.4L101.7 385.4L110.5 389.1L119.2 392.6L128 395.9L136.7 398.9L145.5 401.8L154.2 404.5L162.9 407L171.7 409.4L180.4 411.7L189.2 413.8L197.9 415.9L206.7 417.9L215.4 419.8L224.1 421.6L232.9 423.3L241.6 425L250.4 426.5M66.8 365.8L75.5 371L84.3 375.9L93 380.4L101.7 384.5L110.5 388.4L119.2 392L128 395.4L136.7 398.5L145.5 401.5L154.2 404.2L162.9 406.8L171.7 409.3L180.4 411.6L189.2 413.8L197.9 415.9L206.7 418L215.4 419.9L224.1 421.8L232.9 423.6L241.6 425.2L250.4 426.8M66.8 364.3L75.5 369.7L84.3 374.8L93 379.4L101.7 383.7L110.5 387.7L119.2 391.4L128 394.9L136.7 398.1L145.5 401.1L154.2 404L162.9 406.6L171.7 409.1L180.4 411.5L189.2 413.7L197.9 415.9L206.7 418.1L215.4 420.1L224.1 422L232.9 423.8L241.6 425.5L250.4 427.1M66.8 362.8L75.5 368.4L84.3 373.6L93 378.4L101.7 382.8L110.5 387L119.2 390.8L128 394.3L136.7 397.7L145.5 400.8L154.2 403.7L162.9 406.4L171.7 409L180.4 411.4L189.2 413.7L197.9 416L206.7 418.2L215.4 420.2L224.1 422.2L232.9 424L241.6 425.8L250.4 427.4M66.8 361.2L75.5 367.1L84.3 372.4L93 377.4L101.7 382L110.5 386.2L119.2 390.2L128 393.8L136.7 397.2L145.5 400.4L154.2 403.4L162.9 406.2L171.7 408.9L180.4 411.4L189.2 413.7L197.9 416L206.7 418.3L215.4 420.4L224.1 422.4L232.9 424.3L241.6 426.1L250.4 427.8M66.8 359.7L75.5 365.7L84.3 371.3L93 376.4L101.7 381.1L110.5 385.5L119.2 389.5L128 393.3L136.7 396.8L145.5 400.1L154.2 403.2L162.9 406L171.7 408.8L180.4 411.3L189.2 413.7L197.9 416L206.7 418.3L215.4 420.5L224.1 422.6L232.9 424.5L241.6 426.3L250.4 428.1M66.8 358.1L75.5 364.4L84.3 370.1L93 375.4L101.7 380.2L110.5 384.7L119.2 388.9L128 392.8L136.7 396.4L145.5 399.8L154.2 402.9L162.9 405.9L171.7 408.6L180.4 411.2L189.2 413.7L197.9 416.1L206.7 418.4L215.4 420.7L224.1 422.8L232.9 424.7L241.6 426.6L250.4 428.4M66.8 356.5L75.5 363L84.3 368.9L93 374.3L101.7 379.3L110.5 384L119.2 388.3L128 392.3L136.7 396L145.5 399.4L154.2 402.6L162.9 405.7L171.7 408.5L180.4 411.1L189.2 413.6L197.9 416.1L206.7 418.5L215.4 420.8L224.1 423L232.9 425L241.6 426.9L250.4 428.7M66.8 354.9L75.5 361.6L84.3 367.7L93 373.3L101.7 378.4L110.5 383.2L119.2 387.6L128 391.7L136.7 395.5L145.5 399.1L154.2 402.4L162.9 405.5L171.7 408.4L180.4 411.1L189.2 413.6L197.9 416.2L206.7 418.6L215.4 421L224.1 423.2L232.9 425.2L241.6 427.2L250.4 429M66.8 353.2L75.5 360.1L84.3 366.4L93 372.2L101.7 377.5L110.5 382.4L119.2 387L128 391.2L136.7 395.1L145.5 398.7L154.2 402.1L162.9 405.3L171.7 408.2L180.4 411L189.2 413.6L197.9 416.2L206.7 418.7L215.4 421.1L224.1 423.4L232.9 425.5L241.6 427.5L250.4 429.3M66.8 351.6L75.5 358.7L84.3 365.2L93 371.2L101.7 376.6L110.5 381.7L119.2 386.3L128 390.6L136.7 394.7L145.5 398.4L154.2 401.8L162.9 405.1L171.7 408.1L180.4 410.9L189.2 413.6L197.9 416.2L206.7 418.8L215.4 421.3L224.1 423.6L232.9 425.7L241.6 427.7L250.4 429.6M66.8 349.9L75.5 357.2L84.3 363.9L93 370.1L101.7 375.7L110.5 380.9L119.2 385.7L128 390.1L136.7 394.2L145.5 398L154.2 401.6L162.9 404.9L171.7 408L180.4 410.8L189.2 413.6L197.9 416.3L206.7 418.9L215.4 421.4L224.1 423.8L232.9 426L241.6 428L250.4 430M66.8 348.2L75.5 355.8L84.3 362.7L93 369L101.7 374.8L110.5 380.1L119.2 385L128 389.6L136.7 393.8L145.5 397.7L154.2 401.3L162.9 404.7L171.7 407.8L180.4 410.8L189.2 413.5L197.9 416.3L206.7 419L215.4 421.6L224.1 424L232.9 426.2L241.6 428.3L250.4 430.3M66.8 346.5L75.5 354.3L84.3 361.4L93 367.9L101.7 373.9L110.5 379.3L119.2 384.4L128 389L136.7 393.3L145.5 397.3L154.2 401L162.9 404.5L171.7 407.7L180.4 410.7L189.2 413.5L197.9 416.3L206.7 419.1L215.4 421.7L224.1 424.2L232.9 426.4L241.6 428.6L250.4 430.6M66.8 344.7L75.5 352.8L84.3 360.1L93 366.8L101.7 372.9L110.5 378.5L119.2 383.7L128 388.5L136.7 392.9L145.5 397L154.2 400.8L162.9 404.3L171.7 407.6L180.4 410.6L189.2 413.5L197.9 416.4L206.7 419.2L215.4 421.9L224.1 424.4L232.9 426.7L241.6 428.9L250.4 430.9M66.8 342.9L75.5 351.2L84.3 358.8L93 365.7L101.7 372L110.5 377.7L119.2 383L128 387.9L136.7 392.4L145.5 396.6L154.2 400.5L162.9 404.1L171.7 407.4L180.4 410.6L189.2 413.5L197.9 416.4L206.7 419.3L215.4 422L224.1 424.6L232.9 426.9L241.6 429.2L250.4 431.2M66.8 341.1L75.5 349.7L84.3 357.5L93 364.5L101.7 371L110.5 376.9L119.2 382.4L128 387.4L136.7 392L145.5 396.2L154.2 400.2L162.9 403.9L171.7 407.3L180.4 410.5L189.2 413.5L197.9 416.5L206.7 419.4L215.4 422.2L224.1 424.8L232.9 427.2L241.6 429.4L250.4 431.6M66.8 339.3L75.5 348.1L84.3 356.1L93 363.4L101.7 370L110.5 376.1L119.2 381.7L128 386.8L136.7 391.5L145.5 395.9L154.2 399.9L162.9 403.7L171.7 407.2L180.4 410.4L189.2 413.4L197.9 416.5L206.7 419.5L215.4 422.3L224.1 425L232.9 427.4L241.6 429.7L250.4 431.9M66.8 337.5L75.5 346.5L84.3 354.8L93 362.2L101.7 369.1L110.5 375.3L119.2 381L128 386.2L136.7 391.1L145.5 395.5L154.2 399.7L162.9 403.5L171.7 407L180.4 410.3L189.2 413.4L197.9 416.5L206.7 419.6L215.4 422.5L224.1 425.2L232.9 427.7L241.6 430L250.4 432.2M66.8 335.6L75.5 344.9L84.3 353.4L93 361.1L101.7 368.1L110.5 374.5L119.2 380.3L128 385.7L136.7 390.6L145.5 395.2L154.2 399.4L162.9 403.3L171.7 406.9L180.4 410.3L189.2 413.4L197.9 416.6L206.7 419.7L215.4 422.7L224.1 425.4L232.9 427.9L241.6 430.3L250.4 432.5M66.8 333.7L75.5 343.3L84.3 352L93 359.9L101.7 367.1L110.5 373.6L119.2 379.6L128 385.1L136.7 390.1L145.5 394.8L154.2 399.1L162.9 403.1L171.7 406.8L180.4 410.2L189.2 413.4L197.9 416.6L206.7 419.8L215.4 422.8L224.1 425.6L232.9 428.2L241.6 430.6L250.4 432.8M66.8 331.8L75.5 341.7L84.3 350.6L93 358.7L101.7 366.1L110.5 372.8L119.2 378.9L128 384.5L136.7 389.7L145.5 394.4L154.2 398.8L162.9 402.9L171.7 406.6L180.4 410.1L189.2 413.4L197.9 416.7L206.7 419.9L215.4 423L224.1 425.8L232.9 428.4L241.6 430.9L250.4 433.2M66.8 329.8L75.5 340L84.3 349.2L93 357.5L101.7 365.1L110.5 371.9L119.2 378.2L128 383.9L136.7 389.2L145.5 394.1L154.2 398.5L162.9 402.7L171.7 406.5L180.4 410L189.2 413.3L197.9 416.7L206.7 420L215.4 423.1L224.1 426L232.9 428.7L241.6 431.2L250.4 433.5M66.8 324.2L75.5 335.2L84.3 345.1L93 354.1L101.7 362.2L110.5 369.5L119.2 376.2L128 382.3L136.7 387.9L145.5 393L154.2 397.7L162.9 402.1L171.7 406.1L180.4 409.8L189.2 413.3L197.9 416.8L206.7 420.3L215.4 423.6L224.1 426.6L232.9 429.4L241.6 432L250.4 434.4M66.8 319.1L75.5 330.9L84.3 341.4L93 350.9L101.7 359.5L110.5 367.3L119.2 374.4L128 380.8L136.7 386.7L145.5 392.1L154.2 397L162.9 401.6L171.7 405.8L180.4 409.6L189.2 413.2L197.9 416.9L206.7 420.6L215.4 424L224.1 427.1L232.9 430L241.6 432.7L250.4 435.2M66.8 312.4L75.5 325.2L84.3 336.7L93 346.9L101.7 356.2L110.5 364.5L119.2 372.1L128 378.9L136.7 385.2L145.5 390.9L154.2 396.1L162.9 400.9L171.7 405.3L180.4 409.4L189.2 413.2L197.9 417.1L206.7 421L215.4 424.5L224.1 427.8L232.9 430.8L241.6 433.6L250.4 436.2" stroke="#c8c8c8" stroke-width="1.5" fill="none" clip-path="url(#dc)"/>
<path d="M66.8 392L75.5 394.2L84.3 396.2L93 398.2L101.7 400L110.5 401.7L119.2 403.4L128 405L136.7 406.5L145.5 407.9L154.2 409.3L162.9 410.6L171.7 411.8L180.4 413L189.2 414.2L197.9 415.3L206.7 416.3L215.4 417.4L224.1 418.3L232.9 419.3L241.6 420.2L250.4 421.1M66.8 397.2L75.5 398.8L84.3 400.4L93 401.8L101.7 403.2L110.5 404.6L119.2 405.8L128 407.1L136.7 408.2L145.5 409.3L154.2 410.4L162.9 411.4L171.7 412.4L180.4 413.4L189.2 414.3L197.9 415.1L206.7 416L215.4 416.8L224.1 417.6L232.9 418.4L241.6 419.1L250.4 419.8M66.8 399.6L75.5 401L84.3 402.3L93 403.6L101.7 404.8L110.5 405.9L119.2 407L128 408L136.7 409L145.5 410L154.2 410.9L162.9 411.8L171.7 412.7L180.4 413.5L189.2 414.3L197.9 415.1L206.7 415.8L215.4 416.5L224.1 417.2L232.9 417.9L241.6 418.6L250.4 419.2M66.8 391.6L75.5 393.8L84.3 395.9L93 397.9L101.7 399.7L110.5 401.5L119.2 403.2L128 404.8L136.7 406.3L145.5 407.8L154.2 409.2L162.9 410.5L171.7 411.8L180.4 413L189.2 414.2L197.9 415.3L206.7 416.4L215.4 417.4L224.1 418.4L232.9 419.3L241.6 420.3L250.4 421.2M66.8 394.1L75.5 396.1L84.3 397.9L93 399.7L101.7 401.3L110.5 402.9L119.2 404.4L128 405.8L136.7 407.2L145.5 408.5L154.2 409.7L162.9 410.9L171.7 412.1L180.4 413.2L189.2 414.2L197.9 415.2L206.7 416.2L215.4 417.1L224.1 418L232.9 418.9L241.6 419.7L250.4 420.6M66.8 397.4L75.5 399.1L84.3 400.6L93 402L101.7 403.4L110.5 404.7L119.2 406L128 407.2L136.7 408.3L145.5 409.4L154.2 410.5L162.9 411.5L171.7 412.4L180.4 413.4L189.2 414.3L197.9 415.1L206.7 416L215.4 416.8L224.1 417.6L232.9 418.3L241.6 419L250.4 419.7M66.8 396L75.5 397.7L84.3 399.4L93 401L101.7 402.5L110.5 403.9L119.2 405.3L128 406.6L136.7 407.8L145.5 409L154.2 410.1L162.9 411.2L171.7 412.3L180.4 413.3L189.2 414.2L197.9 415.2L206.7 416.1L215.4 416.9L224.1 417.8L232.9 418.6L241.6 419.3L250.4 420.1M66.8 401.7L75.5 402.9L84.3 404L93 405.1L101.7 406.1L110.5 407.1L119.2 408.1L128 409L136.7 409.8L145.5 410.6L154.2 411.4L162.9 412.2L171.7 412.9L180.4 413.7L189.2 414.4L197.9 415L206.7 415.7L215.4 416.3L224.1 416.9L232.9 417.5L241.6 418.1L250.4 418.6M66.8 391.7L75.5 393.9L84.3 396L93 398L101.7 399.8L110.5 401.6L119.2 403.3L128 404.9L136.7 406.4L145.5 407.8L154.2 409.2L162.9 410.5L171.7 411.8L180.4 413L189.2 414.2L197.9 415.3L206.7 416.3L215.4 417.4L224.1 418.4L232.9 419.3L241.6 420.2L250.4 421.1" stroke="#7c7c7c" stroke-width="0.6" fill="none"/>
<path d="M66.8 374.6L75.5 378.7L84.3 382.6L93 386.2L101.7 389.6L110.5 392.7L119.2 395.7L128 398.4L136.7 401L145.5 403.5L154.2 405.8L162.9 408L171.7 410.1L180.4 412L189.2 413.9L197.9 415.7L206.7 417.4L215.4 419.1L224.1 420.6L232.9 422.1L241.6 423.6L250.4 424.9" stroke="#000" stroke-width="3" fill="none" stroke-linecap="butt" />
<path d="M66.8 370.6L75.5 375.3L84.3 379.6L93 383.6L101.7 387.3L110.5 390.8L119.2 394L128 397L136.7 399.9L145.5 402.6L154.2 405.1L162.9 407.5L171.7 409.7L180.4 411.8L189.2 413.8L197.9 415.8L206.7 417.7L215.4 419.5L224.1 421.2L232.9 422.8L241.6 424.3L250.4 425.8" stroke="#0000ff" stroke-width="2.3" fill="none" stroke-linecap="butt" stroke-dasharray="7.6 4.2" />
<path d="M59.5 479.3v1.3M59.5 285.3v1.3M65.6 479.3v1.3M65.6 285.3v1.3M71.6 479.3v1.3M71.6 285.3v1.3M77.7 479.3v1.3M77.7 285.3v1.3M83.7 479.3v1.3M83.7 285.3v1.3M89.8 479.3v1.3M89.8 285.3v1.3M95.9 479.3v1.3M95.9 285.3v1.3M101.9 479.3v1.3M101.9 285.3v1.3M108 479.3v1.3M108 285.3v1.3M114 479.3v1.3M114 285.3v1.3M120.1 479.3v1.3M120.1 285.3v1.3M126.2 479.3v1.3M126.2 285.3v1.3M132.2 479.3v1.3M132.2 285.3v1.3M138.3 479.3v1.3M138.3 285.3v1.3M144.3 479.3v1.3M144.3 285.3v1.3M150.4 479.3v1.3M150.4 285.3v1.3M156.4 479.3v1.3M156.4 285.3v1.3M162.5 479.3v1.3M162.5 285.3v1.3M168.6 479.3v1.3M168.6 285.3v1.3M174.6 479.3v1.3M174.6 285.3v1.3M180.7 479.3v1.3M180.7 285.3v1.3M186.7 479.3v1.3M186.7 285.3v1.3M192.8 479.3v1.3M192.8 285.3v1.3M198.9 479.3v1.3M198.9 285.3v1.3M204.9 479.3v1.3M204.9 285.3v1.3M211 479.3v1.3M211 285.3v1.3M217 479.3v1.3M217 285.3v1.3M223.1 479.3v1.3M223.1 285.3v1.3M229.2 479.3v1.3M229.2 285.3v1.3M235.2 479.3v1.3M235.2 285.3v1.3M241.3 479.3v1.3M241.3 285.3v1.3M247.3 479.3v1.3M247.3 285.3v1.3M253.4 479.3v1.3M253.4 285.3v1.3" stroke="#666" stroke-width="0.8" fill="none"/>
<path d="M59.5 479.3v2.6M59.5 285.3v2.6M89.8 479.3v2.6M89.8 285.3v2.6M120.1 479.3v2.6M120.1 285.3v2.6M150.4 479.3v2.6M150.4 285.3v2.6M180.7 479.3v2.6M180.7 285.3v2.6M211 479.3v2.6M211 285.3v2.6M241.3 479.3v2.6M241.3 285.3v2.6" stroke="#666" stroke-width="0.8" fill="none"/>
<path d="M59.5 479.3h-1.3M253.4 479.3h-1.3M59.5 472.8h-1.3M253.4 472.8h-1.3M59.5 466.4h-1.3M253.4 466.4h-1.3M59.5 459.9h-1.3M253.4 459.9h-1.3M59.5 453.4h-1.3M253.4 453.4h-1.3M59.5 447h-1.3M253.4 447h-1.3M59.5 440.5h-1.3M253.4 440.5h-1.3M59.5 434h-1.3M253.4 434h-1.3M59.5 427.6h-1.3M253.4 427.6h-1.3M59.5 421.1h-1.3M253.4 421.1h-1.3M59.5 414.6h-1.3M253.4 414.6h-1.3M59.5 408.2h-1.3M253.4 408.2h-1.3M59.5 401.7h-1.3M253.4 401.7h-1.3M59.5 395.2h-1.3M253.4 395.2h-1.3M59.5 388.8h-1.3M253.4 388.8h-1.3M59.5 382.3h-1.3M253.4 382.3h-1.3M59.5 375.8h-1.3M253.4 375.8h-1.3M59.5 369.4h-1.3M253.4 369.4h-1.3M59.5 362.9h-1.3M253.4 362.9h-1.3M59.5 356.4h-1.3M253.4 356.4h-1.3M59.5 350h-1.3M253.4 350h-1.3M59.5 343.5h-1.3M253.4 343.5h-1.3M59.5 337h-1.3M253.4 337h-1.3M59.5 330.6h-1.3M253.4 330.6h-1.3M59.5 324.1h-1.3M253.4 324.1h-1.3M59.5 317.6h-1.3M253.4 317.6h-1.3M59.5 311.2h-1.3M253.4 311.2h-1.3M59.5 304.7h-1.3M253.4 304.7h-1.3M59.5 298.2h-1.3M253.4 298.2h-1.3M59.5 291.8h-1.3M253.4 291.8h-1.3M59.5 285.3h-1.3M253.4 285.3h-1.3" stroke="#666" stroke-width="0.8" fill="none"/>
<path d="M59.5 479.3h-2.6M253.4 479.3h-2.6M59.5 447h-2.6M253.4 447h-2.6M59.5 414.6h-2.6M253.4 414.6h-2.6M59.5 382.3h-2.6M253.4 382.3h-2.6M59.5 350h-2.6M253.4 350h-2.6M59.5 317.6h-2.6M253.4 317.6h-2.6M59.5 285.3h-2.6M253.4 285.3h-2.6" stroke="#666" stroke-width="0.8" fill="none"/>
<rect x="59.5" y="285.3" width="193.9" height="194" fill="none" stroke="#808080" stroke-width="0.9"/>
<text x="59.5" y="496.6" font-size="10.4" text-anchor="middle" >400</text>
<text x="89.8" y="496.6" font-size="10.4" text-anchor="middle" >450</text>
<text x="120.1" y="496.6" font-size="10.4" text-anchor="middle" >500</text>
<text x="150.4" y="496.6" font-size="10.4" text-anchor="middle" >550</text>
<text x="180.7" y="496.6" font-size="10.4" text-anchor="middle" >600</text>
<text x="211" y="496.6" font-size="10.4" text-anchor="middle" >650</text>
<text x="241.3" y="496.6" font-size="10.4" text-anchor="middle" >700</text>
<text x="51" y="482.8" font-size="10.2" text-anchor="end" >0.0</text>
<text x="51" y="450.5" font-size="10.2" text-anchor="end" >0.5</text>
<text x="51" y="418.1" font-size="10.2" text-anchor="end" >1.0</text>
<text x="51" y="385.8" font-size="10.2" text-anchor="end" >1.5</text>
<text x="51" y="353.5" font-size="10.2" text-anchor="end" >2.0</text>
<text x="51" y="321.1" font-size="10.2" text-anchor="end" >2.5</text>
<text x="51" y="288.8" font-size="10.2" text-anchor="end" >3.0</text>
<path d="M63.8 428.6L87.5 428.6" stroke="#666" stroke-width="1" fill="none" stroke-linecap="butt" />
<path d="M63.8 442L87.5 442" stroke="#c6c6c6" stroke-width="1.4" fill="none" stroke-linecap="butt" stroke-dasharray="5.5 2.2" />
<path d="M63.8 455L87.5 455" stroke="#000" stroke-width="3" fill="none" stroke-linecap="butt" />
<path d="M64.1 468.3L88 468.3" stroke="#0000ff" stroke-width="2.4" fill="none" stroke-linecap="butt" stroke-dasharray="7.6 4.2" />
<text x="94.6" y="432.2" font-size="10.7" text-anchor="start" >Baltic Sea data</text>
<text x="94.6" y="445.4" font-size="10.7" text-anchor="start" >additional data (NOMAD)</text>
<text x="94.6" y="458.2" font-size="10.7" text-anchor="start" >average for Baltic data</text>
<text x="94.6" y="470.9" font-size="10.7" text-anchor="start" >average for NOMAD</text>
<text x="156.2" y="523.3" font-size="17.5" text-anchor="middle" >λ [nm]</text>
<text x="0" y="0" font-size="17" text-anchor="middle" transform="translate(22.9,381.7) rotate(-90)"><tspan font-style="italic">b</tspan><tspan font-style="italic" font-size="11" dy="4">bp</tspan><tspan dy="-4">(λ)/</tspan><tspan font-style="italic">b</tspan><tspan font-style="italic" font-size="11" dy="4">bp</tspan><tspan dy="-4">(620)</tspan></text>
<text x="132" y="543.6" font-size="11.5" text-anchor="middle" font-weight="bold">(c)</text>
<line x1="351.1" y1="286.8" x2="351.1" y2="481.8" stroke="#d0d0d0" stroke-width="0.8" stroke-dasharray="0.9 1.6"/>
<line x1="383.6" y1="286.8" x2="383.6" y2="481.8" stroke="#d0d0d0" stroke-width="0.8" stroke-dasharray="0.9 1.6"/>
<line x1="416.2" y1="286.8" x2="416.2" y2="481.8" stroke="#d0d0d0" stroke-width="0.8" stroke-dasharray="0.9 1.6"/>
<line x1="448.7" y1="286.8" x2="448.7" y2="481.8" stroke="#d0d0d0" stroke-width="0.8" stroke-dasharray="0.9 1.6"/>
<line x1="481.2" y1="286.8" x2="481.2" y2="481.8" stroke="#d0d0d0" stroke-width="0.8" stroke-dasharray="0.9 1.6"/>
<line x1="318.6" y1="453.9" x2="513.7" y2="453.9" stroke="#d0d0d0" stroke-width="0.8" stroke-dasharray="0.9 1.6"/>
<line x1="318.6" y1="398.2" x2="513.7" y2="398.2" stroke="#d0d0d0" stroke-width="0.8" stroke-dasharray="0.9 1.6"/>
<line x1="318.6" y1="342.5" x2="513.7" y2="342.5" stroke="#d0d0d0" stroke-width="0.8" stroke-dasharray="0.9 1.6"/>
<path d="M385.1 337.6h0M379 344.5h0M385.1 344.5h0M380.1 346.3h0M385.9 347.5h0M381.3 349.1h0M382.1 350.6h0M385.6 351.7h0M376.7 354.9h0M378.2 356.7h0M385.9 356.7h0M381.3 360.1h0M377.5 361.3h0M379.8 362.5h0M382.8 362.1h0M374.4 365.9h0M377.5 365.9h0M380.1 365.9h0M381.6 365.1h0M374.4 369.3h0M376.7 369.3h0M379 368.6h0M368.6 375.1h0M366 378.1h0M360.7 389.2h0M352.7 392.2h0M385.9 388.4h0M357.6 396.5h0M357.1 402.2h0M354.5 406h0M359.1 408.3h0M385.1 400.7h0M384.4 410.6h0M383.1 412.1h0M366.8 412.1h0M368.8 412.6h0M375.9 408.3h0M375.5 410.6h0M374.9 416.3h0M379.5 416.3h0M355 417.5h0M360.7 418.2h0M379.8 422.1h0M381.6 425.9h0M383.6 425.9h0M352.7 432.3h0M381.5 466.3h0M367.9 399.7h0M371.5 394.4h0M375.1 381.7h0M367.6 396.5h0M369.7 400.5h0M369.9 392.2h0M372.5 394.2h0M382.5 385.7h0M372.4 385.4h0M365.4 407.2h0M362.7 402.1h0M372 379.8h0M373.4 382.9h0M362.4 407.6h0M368.8 387.9h0M371.9 386.4h0M379 391.8h0M375.3 405.7h0M368.8 395.2h0M369.5 391.5h0M380.2 379.1h0M370.6 404.8h0M370 396.8h0M377.3 380.2h0M376.3 386.8h0M368 399h0M370.9 409.9h0M375.1 396.5h0M372.3 401.9h0M368.2 391.9h0M379.5 388.2h0M369 412.5h0M380.1 383h0M357.6 400.6h0M376.7 389.2h0M373.7 384.3h0M379.2 390.4h0M376.8 390.6h0M365.3 408.2h0M382.3 382.5h0M379.7 382.1h0M366.9 406.2h0M373.7 403.2h0M379.7 386.5h0M376.5 399.3h0M373 379.3h0M364.1 404.6h0M374.6 393.2h0M374.9 388.9h0M379.1 381.7h0M364.6 402.5h0M369.6 393.3h0M376.2 405.6h0M377.2 386.7h0M371.6 395.2h0M376.1 386.3h0M369.5 402.4h0M376.4 385.2h0M377.2 380h0M375.7 378.7h0M380.7 398.8h0M369.4 392.5h0M373 389.7h0M374.9 382.1h0M377.4 379h0M380.5 387.1h0M368.3 402.1h0M368.4 378.9h0M370.3 396.5h0M367.3 399.7h0M365.7 406.6h0M379.5 404.6h0M380.7 378.6h0M376.9 383.7h0M368.1 408.6h0M371.1 404.4h0M378.8 384.1h0M371.4 399.5h0M370.3 400.3h0M371 405.3h0M374.7 389.9h0M372.9 397.8h0M365.7 393.2h0M373.7 408.8h0M370.2 406.3h0M381.5 406.5h0M373.6 385.4h0M371.7 403.5h0M372.1 398.1h0M374.7 403.6h0M371.7 400h0M370 396.9h0M373.8 388.6h0M371.9 401.1h0M375.4 404.7h0M366.2 398.9h0M366.4 409.2h0M377.1 393.6h0M379.2 386.2h0M373.6 402.2h0M371.7 390.9h0M373.5 396.5h0M367.8 407.5h0M378.6 408.7h0M367.4 395h0M377 403.8h0M370.6 382.5h0M375.4 388.5h0M367.1 401.7h0M372.2 393.2h0M374.6 386.8h0M373.7 392.7h0M374.2 400.9h0M367.1 401.4h0M366.2 390.9h0M372.4 391.7h0M377.6 398.4h0M365 395h0M375.1 403.8h0M368.5 412h0M381.1 392.4h0M370.1 389.8h0M373.5 381.5h0M371.6 393.3h0M379.3 379.5h0" stroke="#058005" stroke-width="2.9" stroke-linecap="round" fill="none"/>
<path d="M395.8 344.5h0M403.5 346.3h0M412.7 348.3h0M411.6 352.1h0M387.4 361.3h0M407.3 356.4h0M410.8 357.5h0M415.4 354.9h0M398.4 360.5h0M402.4 360.2h0M406.5 361.3h0M405.3 364.1h0M408.1 374.8h0M416.9 377.4h0M416.2 383.4h0M399.7 388.4h0M399.3 395.8h0M403.9 397.6h0M396.3 401.4h0M387.1 402.9h0M398.9 411.7h0M405 413.3h0M409.1 412.4h0M415 411.4h0M392.8 417.2h0M388.6 424.4h0M396.3 424.1h0M399.3 425.6h0M405.5 423.6h0M405.8 425.1h0M415.7 422.8h0M419.2 421h0M400.4 430.2h0M401.5 432.5h0M371.4 439.7h0M372.4 440.1h0M415.7 443.8h0M405.5 453.4h0M409.1 451.6h0M419.2 456h0M447 322.7h0M453.1 330.7h0M467.7 331.4h0M444 334.2h0M437.5 338.3h0M435.7 339.5h0M424.1 339.8h0M467.4 340.6h0M468.1 341.8h0M443.7 342.9h0M450.1 343.2h0M433.3 347.5h0M427.1 350.1h0M432.2 352.1h0M463.5 349h0M457.4 352.5h0M473.5 354.7h0M449.8 358.5h0M444 360.2h0M451.3 362h0M467.4 358.6h0M468.1 359.3h0M464.6 363.1h0M447.5 365.8h0M453.6 366.6h0M456.7 369.2h0M439.1 372h0M426.5 377h0M462.3 379.3h0M432.2 386.8h0M463.5 393.8h0M463.5 396.1h0M459.3 397.6h0M443.3 399.1h0M444.1 401h0M427.1 403.4h0M410 412.1h0M432.5 410.6h0M446.3 409.8h0M428.4 415.9h0M465.1 413.3h0M445.2 421.6h0M431.4 430h0M467.4 431.2h0M436.8 439.3h0M469.3 440.4h0M458.5 442h0M410 451.9h0M439.4 456h0M400.5 431.1h0" stroke="#0000ff" stroke-width="2.9" stroke-linecap="round" fill="none"/>
<path d="M345.6 481.8L347 473.4L348.4 465.5L349.8 458.1L351.2 451.1L352.7 444.5L354.1 438.4L355.5 432.6L356.9 427.2L358.3 422.1L359.7 417.3L361.1 412.8L362.5 408.5L364 404.6L365.4 400.8L366.8 397.3L368.2 394L369.6 390.9L371 388L372.4 385.2L373.8 382.7L375.3 380.2L376.7 378L378.1 375.8L379.5 373.8L380.9 371.9L382.3 370.2L383.7 368.5L385.1 366.9L386.6 365.4L388 364.1L389.4 362.8L390.8 361.5L392.2 360.4L393.6 359.3L395 358.3L396.4 357.4L397.9 356.5L399.3 355.6L400.7 354.8L402.1 354.1L403.5 353.4L404.9 352.7L406.3 352.1L407.7 351.5L409.2 351L410.6 350.5L412 350L413.4 349.6L414.8 349.1L416.2 348.7L417.6 348.4L419 348L420.5 347.7L421.9 347.4L423.3 347.1L424.7 346.8L426.1 346.5L427.5 346.3L428.9 346.1L430.4 345.9L431.8 345.6L433.2 345.5L434.6 345.3L436 345.1L437.4 345L438.8 344.8L440.2 344.7L441.7 344.5L443.1 344.4L444.5 344.3L445.9 344.2L447.3 344.1L448.7 344L450.1 343.9L451.5 343.8L453 343.7L454.4 343.7L455.8 343.6L457.2 343.5L458.6 343.5L460 343.4L461.4 343.4L462.8 343.3L464.3 343.3L465.7 343.2L467.1 343.2L468.5 343.1L469.9 343.1L471.3 343.1L472.7 343L474.1 343L475.6 343L477 342.9L478.4 342.9L479.8 342.9L481.2 342.9L482.6 342.8L484 342.8L485.4 342.8L486.9 342.8L488.3 342.8L489.7 342.8L491.1 342.7L492.5 342.7L493.9 342.7L495.3 342.7L496.7 342.7L498.2 342.7L499.6 342.7L501 342.7L502.4 342.7L503.8 342.6L505.2 342.6L506.6 342.6L508 342.6L509.5 342.6L510.9 342.6L512.3 342.6L513.7 342.6" stroke="#000" stroke-width="2" fill="none" stroke-linecap="butt" />
<path d="M353.5 416.4L428 318.4" stroke="#000" stroke-width="1.3" fill="none" stroke-linecap="butt" stroke-dasharray="5.6 2.6" />
<path d="M318.6 481.8v1.3M318.6 286.8v1.3M325.1 481.8v1.3M325.1 286.8v1.3M331.6 481.8v1.3M331.6 286.8v1.3M338.1 481.8v1.3M338.1 286.8v1.3M344.6 481.8v1.3M344.6 286.8v1.3M351.1 481.8v1.3M351.1 286.8v1.3M357.6 481.8v1.3M357.6 286.8v1.3M364.1 481.8v1.3M364.1 286.8v1.3M370.6 481.8v1.3M370.6 286.8v1.3M377.1 481.8v1.3M377.1 286.8v1.3M383.6 481.8v1.3M383.6 286.8v1.3M390.1 481.8v1.3M390.1 286.8v1.3M396.6 481.8v1.3M396.6 286.8v1.3M403.1 481.8v1.3M403.1 286.8v1.3M409.6 481.8v1.3M409.6 286.8v1.3M416.2 481.8v1.3M416.2 286.8v1.3M422.7 481.8v1.3M422.7 286.8v1.3M429.2 481.8v1.3M429.2 286.8v1.3M435.7 481.8v1.3M435.7 286.8v1.3M442.2 481.8v1.3M442.2 286.8v1.3M448.7 481.8v1.3M448.7 286.8v1.3M455.2 481.8v1.3M455.2 286.8v1.3M461.7 481.8v1.3M461.7 286.8v1.3M468.2 481.8v1.3M468.2 286.8v1.3M474.7 481.8v1.3M474.7 286.8v1.3M481.2 481.8v1.3M481.2 286.8v1.3M487.7 481.8v1.3M487.7 286.8v1.3M494.2 481.8v1.3M494.2 286.8v1.3M500.7 481.8v1.3M500.7 286.8v1.3M507.2 481.8v1.3M507.2 286.8v1.3M513.7 481.8v1.3M513.7 286.8v1.3" stroke="#666" stroke-width="0.8" fill="none"/>
<path d="M318.6 481.8v2.6M318.6 286.8v2.6M351.1 481.8v2.6M351.1 286.8v2.6M383.6 481.8v2.6M383.6 286.8v2.6M416.2 481.8v2.6M416.2 286.8v2.6M448.7 481.8v2.6M448.7 286.8v2.6M481.2 481.8v2.6M481.2 286.8v2.6M513.7 481.8v2.6M513.7 286.8v2.6" stroke="#666" stroke-width="0.8" fill="none"/>
<path d="M318.6 476.2h-1.3M513.7 476.2h-1.3M318.6 465.1h-1.3M513.7 465.1h-1.3M318.6 453.9h-1.3M513.7 453.9h-1.3M318.6 442.8h-1.3M513.7 442.8h-1.3M318.6 431.7h-1.3M513.7 431.7h-1.3M318.6 420.5h-1.3M513.7 420.5h-1.3M318.6 409.4h-1.3M513.7 409.4h-1.3M318.6 398.2h-1.3M513.7 398.2h-1.3M318.6 387.1h-1.3M513.7 387.1h-1.3M318.6 375.9h-1.3M513.7 375.9h-1.3M318.6 364.8h-1.3M513.7 364.8h-1.3M318.6 353.7h-1.3M513.7 353.7h-1.3M318.6 342.5h-1.3M513.7 342.5h-1.3M318.6 331.4h-1.3M513.7 331.4h-1.3M318.6 320.2h-1.3M513.7 320.2h-1.3M318.6 309.1h-1.3M513.7 309.1h-1.3M318.6 297.9h-1.3M513.7 297.9h-1.3M318.6 286.8h-1.3M513.7 286.8h-1.3" stroke="#666" stroke-width="0.8" fill="none"/>
<path d="M318.6 453.9h-2.6M513.7 453.9h-2.6M318.6 398.2h-2.6M513.7 398.2h-2.6M318.6 342.5h-2.6M513.7 342.5h-2.6M318.6 286.8h-2.6M513.7 286.8h-2.6" stroke="#666" stroke-width="0.8" fill="none"/>
<rect x="318.6" y="286.8" width="195.1" height="195" fill="none" stroke="#808080" stroke-width="0.9"/>
<text x="318.7" y="498" font-size="9.3" text-anchor="middle" >0.0</text>
<text x="351.2" y="498" font-size="9.3" text-anchor="middle" >0.5</text>
<text x="383.7" y="498" font-size="9.3" text-anchor="middle" >1.0</text>
<text x="416.3" y="498" font-size="9.3" text-anchor="middle" >1.5</text>
<text x="448.8" y="498" font-size="9.3" text-anchor="middle" >2.0</text>
<text x="481.3" y="498" font-size="9.3" text-anchor="middle" >2.5</text>
<text x="513.8" y="498" font-size="9.3" text-anchor="middle" >3.0</text>
<text x="311.3" y="457.1" font-size="9.5" text-anchor="end" >0</text>
<text x="311.3" y="401.4" font-size="9.5" text-anchor="end" >1</text>
<text x="311.3" y="345.7" font-size="9.5" text-anchor="end" >2</text>
<text x="311.3" y="290" font-size="9.5" text-anchor="end" >3</text>
<path d="M321.8 298.5L345.1 298.5" stroke="#000" stroke-width="2.5" fill="none" stroke-linecap="butt" />
<path d="M321.8 310.2L345.1 310.2" stroke="#000" stroke-width="1.6" fill="none" stroke-linecap="butt" stroke-dasharray="4.6 2" />
<text x="351.1" y="301.4" font-size="9.33" text-anchor="start" >est. form. for Baltic Sea data only (eq. 15a)</text>
<text x="351.1" y="313.3" font-size="9.33" text-anchor="start" >est. form. for Baltic Sea data only (eq. 15b)</text>
<text x="416.2" y="523.6" font-size="17.4" text-anchor="middle" ><tspan font-style="italic">r</tspan><tspan font-style="italic" font-size="10.5" dy="5">rs</tspan><tspan dy="-5">(510)/</tspan><tspan font-style="italic">r</tspan><tspan font-style="italic" font-size="10.5" dy="5">rs</tspan><tspan dy="-5">(555)</tspan></text>
<text x="0" y="0" font-size="17.5" text-anchor="middle" transform="translate(296.8,384.6) rotate(-90)">γ</text>
<text x="401.2" y="543.9" font-size="11.5" text-anchor="middle" font-weight="bold">(d)</text>
</svg>
</body></html>
